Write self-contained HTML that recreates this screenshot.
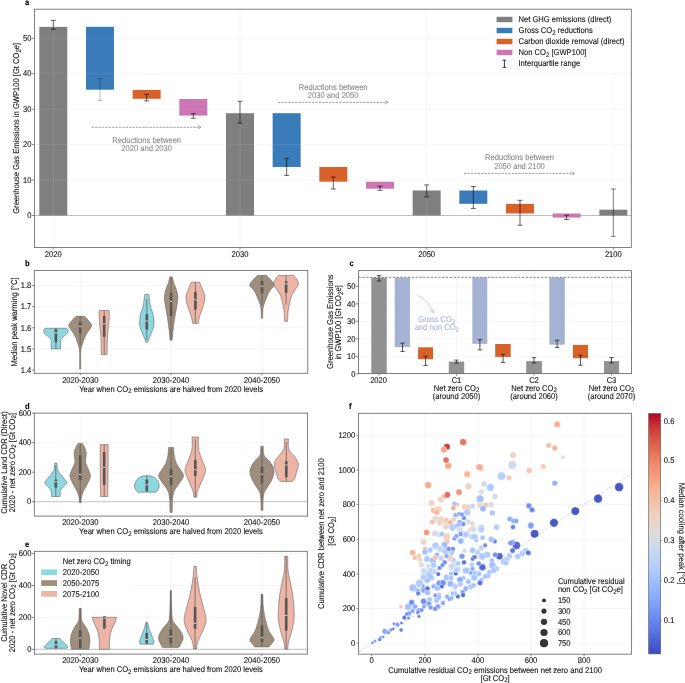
<!DOCTYPE html>
<html><head><meta charset="utf-8"><title>Figure</title>
<style>
html,body{margin:0;padding:0;background:#fff;}
svg{display:block;text-rendering:geometricPrecision;}
</style></head><body>
<svg width="685" height="683" viewBox="0 0 685 683" font-family='"Liberation Sans", Arial, Helvetica, sans-serif' font-size="7.6" fill="#111">
<rect width="685" height="683" fill="#fff"/>
<text x="24.9" y="5.1" font-weight="bold" transform="matrix(1 0 0 1.1 0 -0.51)" stroke="#000" stroke-width="0.12" fill="#000">a</text>
<line x1="34.5" y1="215.5" x2="631.3" y2="215.5" stroke="#f2f2f2" stroke-width="0.8"/>
<line x1="34.5" y1="180.06" x2="631.3" y2="180.06" stroke="#f2f2f2" stroke-width="0.8"/>
<line x1="34.5" y1="144.62" x2="631.3" y2="144.62" stroke="#f2f2f2" stroke-width="0.8"/>
<line x1="34.5" y1="109.18" x2="631.3" y2="109.18" stroke="#f2f2f2" stroke-width="0.8"/>
<line x1="34.5" y1="73.74" x2="631.3" y2="73.74" stroke="#f2f2f2" stroke-width="0.8"/>
<line x1="34.5" y1="38.3" x2="631.3" y2="38.3" stroke="#f2f2f2" stroke-width="0.8"/>
<line x1="53.3" y1="9.2" x2="53.3" y2="247.5" stroke="#f2f2f2" stroke-width="0.8"/>
<line x1="239.98" y1="9.2" x2="239.98" y2="247.5" stroke="#f2f2f2" stroke-width="0.8"/>
<line x1="426.66" y1="9.2" x2="426.66" y2="247.5" stroke="#f2f2f2" stroke-width="0.8"/>
<line x1="613.34" y1="9.2" x2="613.34" y2="247.5" stroke="#f2f2f2" stroke-width="0.8"/>
<line x1="34.5" y1="215.5" x2="631.3" y2="215.5" stroke="#b8b8b8" stroke-width="0.9"/>
<rect x="39.3" y="26.9" width="28" height="188.6" fill="#7f7f7f"/>
<rect x="85.97" y="26.8" width="28" height="62.9" fill="#3a7cb9"/>
<rect x="132.64" y="89.9" width="28" height="8.9" fill="#d8612a"/>
<rect x="179.31" y="99" width="28" height="16.6" fill="#cc76b4"/>
<rect x="225.98" y="113.2" width="28" height="102.3" fill="#7f7f7f"/>
<rect x="272.65" y="113.2" width="28" height="53.8" fill="#3a7cb9"/>
<rect x="319.32" y="167" width="28" height="14.7" fill="#d8612a"/>
<rect x="365.99" y="181.7" width="28" height="7" fill="#cc76b4"/>
<rect x="412.66" y="190.5" width="28" height="25" fill="#7f7f7f"/>
<rect x="459.33" y="190.5" width="28" height="13.3" fill="#3a7cb9"/>
<rect x="506" y="203.9" width="28" height="9.6" fill="#d8612a"/>
<rect x="552.67" y="213.5" width="28" height="4.1" fill="#cc76b4"/>
<rect x="599.34" y="209.7" width="28" height="5.8" fill="#7f7f7f"/>
<line x1="34.5" y1="180.06" x2="631.3" y2="180.06" stroke="#ffffff" stroke-width="0.7" opacity="0.12"/>
<line x1="34.5" y1="144.62" x2="631.3" y2="144.62" stroke="#ffffff" stroke-width="0.7" opacity="0.12"/>
<line x1="34.5" y1="109.18" x2="631.3" y2="109.18" stroke="#ffffff" stroke-width="0.7" opacity="0.12"/>
<line x1="34.5" y1="73.74" x2="631.3" y2="73.74" stroke="#ffffff" stroke-width="0.7" opacity="0.12"/>
<line x1="34.5" y1="38.3" x2="631.3" y2="38.3" stroke="#ffffff" stroke-width="0.7" opacity="0.12"/>
<line x1="53.3" y1="9.2" x2="53.3" y2="247.5" stroke="#ffffff" stroke-width="0.7" opacity="0.12"/>
<line x1="239.98" y1="9.2" x2="239.98" y2="247.5" stroke="#ffffff" stroke-width="0.7" opacity="0.12"/>
<line x1="426.66" y1="9.2" x2="426.66" y2="247.5" stroke="#ffffff" stroke-width="0.7" opacity="0.12"/>
<line x1="613.34" y1="9.2" x2="613.34" y2="247.5" stroke="#ffffff" stroke-width="0.7" opacity="0.12"/>
<path d="M53.3 20.4 V29.3 M50.8 20.4 H55.8 M50.8 29.3 H55.8" stroke="#000" stroke-width="0.9" fill="none" opacity="0.68"/>
<path d="M99.97 78.7 V100.4 M97.47 78.7 H102.47 M97.47 100.4 H102.47" stroke="#000" stroke-width="0.9" fill="none" opacity="0.3"/>
<path d="M146.64 94.3 V100.9 M144.14 94.3 H149.14 M144.14 100.9 H149.14" stroke="#000" stroke-width="0.9" fill="none" opacity="0.68"/>
<path d="M193.31 113.7 V118.2 M190.81 113.7 H195.81 M190.81 118.2 H195.81" stroke="#000" stroke-width="0.9" fill="none" opacity="0.68"/>
<path d="M239.98 101.3 V123.2 M237.48 101.3 H242.48 M237.48 123.2 H242.48" stroke="#000" stroke-width="0.9" fill="none" opacity="0.68"/>
<path d="M286.65 158.4 V175.4 M284.15 158.4 H289.15 M284.15 175.4 H289.15" stroke="#000" stroke-width="0.9" fill="none" opacity="0.68"/>
<path d="M333.32 177 V189 M330.82 177 H335.82 M330.82 189 H335.82" stroke="#000" stroke-width="0.9" fill="none" opacity="0.68"/>
<path d="M379.99 186.2 V190.3 M377.49 186.2 H382.49 M377.49 190.3 H382.49" stroke="#000" stroke-width="0.9" fill="none" opacity="0.68"/>
<path d="M426.66 184.9 V196.8 M424.16 184.9 H429.16 M424.16 196.8 H429.16" stroke="#000" stroke-width="0.9" fill="none" opacity="0.68"/>
<path d="M473.33 186.5 V208.4 M470.83 186.5 H475.83 M470.83 208.4 H475.83" stroke="#000" stroke-width="0.9" fill="none" opacity="0.68"/>
<path d="M520 200.3 V225.2 M517.5 200.3 H522.5 M517.5 225.2 H522.5" stroke="#000" stroke-width="0.9" fill="none" opacity="0.68"/>
<path d="M566.67 215.2 V219.5 M564.17 215.2 H569.17 M564.17 219.5 H569.17" stroke="#000" stroke-width="0.9" fill="none" opacity="0.68"/>
<path d="M613.34 189 V236.4 M610.84 189 H615.84 M610.84 236.4 H615.84" stroke="#000" stroke-width="0.9" fill="none" opacity="0.55"/>
<rect x="34.5" y="9.2" width="596.8" height="238.3" fill="none" stroke="#6a6a6a" stroke-width="0.85"/>
<line x1="32" y1="215.5" x2="34.5" y2="215.5" stroke="#6a6a6a" stroke-width="0.8"/>
<text x="31.5" y="218.25" text-anchor="end" transform="matrix(1 0 0 1.1 0 -21.83)" stroke="#111" stroke-width="0.1">0</text>
<line x1="32" y1="180.06" x2="34.5" y2="180.06" stroke="#6a6a6a" stroke-width="0.8"/>
<text x="31.5" y="182.81" text-anchor="end" transform="matrix(1 0 0 1.1 0 -18.28)" stroke="#111" stroke-width="0.1">10</text>
<line x1="32" y1="144.62" x2="34.5" y2="144.62" stroke="#6a6a6a" stroke-width="0.8"/>
<text x="31.5" y="147.37" text-anchor="end" transform="matrix(1 0 0 1.1 0 -14.74)" stroke="#111" stroke-width="0.1">20</text>
<line x1="32" y1="109.18" x2="34.5" y2="109.18" stroke="#6a6a6a" stroke-width="0.8"/>
<text x="31.5" y="111.93" text-anchor="end" transform="matrix(1 0 0 1.1 0 -11.19)" stroke="#111" stroke-width="0.1">30</text>
<line x1="32" y1="73.74" x2="34.5" y2="73.74" stroke="#6a6a6a" stroke-width="0.8"/>
<text x="31.5" y="76.49" text-anchor="end" transform="matrix(1 0 0 1.1 0 -7.65)" stroke="#111" stroke-width="0.1">40</text>
<line x1="32" y1="38.3" x2="34.5" y2="38.3" stroke="#6a6a6a" stroke-width="0.8"/>
<text x="31.5" y="41.05" text-anchor="end" transform="matrix(1 0 0 1.1 0 -4.11)" stroke="#111" stroke-width="0.1">50</text>
<line x1="53.3" y1="247.5" x2="53.3" y2="249.5" stroke="#6a6a6a" stroke-width="0.8"/>
<text x="53.3" y="256.6" text-anchor="middle" transform="matrix(1 0 0 1.1 0 -25.66)" stroke="#111" stroke-width="0.1">2020</text>
<line x1="239.98" y1="247.5" x2="239.98" y2="249.5" stroke="#6a6a6a" stroke-width="0.8"/>
<text x="239.98" y="256.6" text-anchor="middle" transform="matrix(1 0 0 1.1 0 -25.66)" stroke="#111" stroke-width="0.1">2030</text>
<line x1="426.66" y1="247.5" x2="426.66" y2="249.5" stroke="#6a6a6a" stroke-width="0.8"/>
<text x="426.66" y="256.6" text-anchor="middle" transform="matrix(1 0 0 1.1 0 -25.66)" stroke="#111" stroke-width="0.1">2050</text>
<line x1="613.34" y1="247.5" x2="613.34" y2="249.5" stroke="#6a6a6a" stroke-width="0.8"/>
<text x="613.34" y="256.6" text-anchor="middle" transform="matrix(1 0 0 1.1 0 -25.66)" stroke="#111" stroke-width="0.1">2100</text>
<text x="19.3" y="128.3" text-anchor="middle" transform="rotate(-90 19.3 128.3) matrix(1 0 0 1.1 0 -12.83)" stroke="#111" stroke-width="0.1">Greenhouse Gas Emissions in GWP100 [Gt CO<tspan font-size="80%" dy="1.4">2</tspan><tspan dy="-1.4" font-style="italic">e</tspan>]</text>
<line x1="91.6" y1="127.3" x2="200.2" y2="127.3" stroke="#6f6f6f" stroke-width="0.65" stroke-dasharray="2.4 1.0"/>
<path d="M198.4 125.7 L201 127.3 L198.4 128.9" fill="none" stroke="#6f6f6f" stroke-width="0.65"/>
<text x="146.7" y="142.9" text-anchor="middle" fill="#8a8a8a" transform="matrix(1 0 0 1.1 0 -14.29)" stroke="#8a8a8a" stroke-width="0.1">Reductions between</text>
<text x="146.7" y="150.9" text-anchor="middle" fill="#8a8a8a" transform="matrix(1 0 0 1.1 0 -15.09)" stroke="#8a8a8a" stroke-width="0.1">2020 and 2030</text>
<line x1="278" y1="102.4" x2="387.2" y2="102.4" stroke="#6f6f6f" stroke-width="0.65" stroke-dasharray="2.4 1.0"/>
<path d="M385.4 100.8 L388 102.4 L385.4 104" fill="none" stroke="#6f6f6f" stroke-width="0.65"/>
<text x="333.2" y="89.6" text-anchor="middle" fill="#8a8a8a" transform="matrix(1 0 0 1.1 0 -8.96)" stroke="#8a8a8a" stroke-width="0.1">Reductions between</text>
<text x="333.2" y="97.7" text-anchor="middle" fill="#8a8a8a" transform="matrix(1 0 0 1.1 0 -9.77)" stroke="#8a8a8a" stroke-width="0.1">2030 and 2050</text>
<line x1="464" y1="173.4" x2="573.7" y2="173.4" stroke="#6f6f6f" stroke-width="0.65" stroke-dasharray="2.4 1.0"/>
<path d="M571.9 171.8 L574.5 173.4 L571.9 175" fill="none" stroke="#6f6f6f" stroke-width="0.65"/>
<text x="519.5" y="160.2" text-anchor="middle" fill="#8a8a8a" transform="matrix(1 0 0 1.1 0 -16.02)" stroke="#8a8a8a" stroke-width="0.1">Reductions between</text>
<text x="519.5" y="168.7" text-anchor="middle" fill="#8a8a8a" transform="matrix(1 0 0 1.1 0 -16.87)" stroke="#8a8a8a" stroke-width="0.1">2050 and 2100</text>
<rect x="494.2" y="12" width="135.5" height="59" fill="#fff" opacity="0.85"/>
<rect x="496.6" y="16.8" width="15.8" height="5.4" fill="#7f7f7f"/>
<text x="518.5" y="22.1" transform="matrix(1 0 0 1.1 0 -2.21)" stroke="#111" stroke-width="0.1">Net GHG emissions (direct)</text>
<rect x="496.6" y="27.8" width="15.8" height="5.4" fill="#3a7cb9"/>
<text x="518.5" y="33.1" transform="matrix(1 0 0 1.1 0 -3.31)" stroke="#111" stroke-width="0.1">Gross CO<tspan font-size="80%" dy="1.4">2</tspan><tspan dy="-1.4"> reductions</tspan></text>
<rect x="496.6" y="38.8" width="15.8" height="5.4" fill="#d8612a"/>
<text x="518.5" y="44.1" transform="matrix(1 0 0 1.1 0 -4.41)" stroke="#111" stroke-width="0.1">Carbon dioxide removal (direct)</text>
<rect x="496.6" y="49.8" width="15.8" height="5.4" fill="#cc76b4"/>
<text x="518.5" y="55.1" transform="matrix(1 0 0 1.1 0 -5.51)" stroke="#111" stroke-width="0.1">Non CO<tspan font-size="80%" dy="1.4">2</tspan><tspan dy="-1.4"> [GWP100]</tspan></text>
<g stroke="#222" stroke-width="0.9">
<line x1="504.4" y1="60.2" x2="504.4" y2="67.4" stroke="#222" stroke-width="0.9"/>
<line x1="502.6" y1="60.2" x2="506.2" y2="60.2" stroke="#222" stroke-width="0.9"/>
<line x1="502.6" y1="67.4" x2="506.2" y2="67.4" stroke="#222" stroke-width="0.9"/>
</g>
<text x="518.5" y="66.3" transform="matrix(1 0 0 1.1 0 -6.63)" stroke="#111" stroke-width="0.1">Interquartile range</text>
<line x1="34.3" y1="370" x2="307.8" y2="370" stroke="#f2f2f2" stroke-width="0.8"/>
<line x1="34.3" y1="348.9" x2="307.8" y2="348.9" stroke="#f2f2f2" stroke-width="0.8"/>
<line x1="34.3" y1="327.8" x2="307.8" y2="327.8" stroke="#f2f2f2" stroke-width="0.8"/>
<line x1="34.3" y1="306.7" x2="307.8" y2="306.7" stroke="#f2f2f2" stroke-width="0.8"/>
<line x1="34.3" y1="285.6" x2="307.8" y2="285.6" stroke="#f2f2f2" stroke-width="0.8"/>
<line x1="80.3" y1="270.5" x2="80.3" y2="373.3" stroke="#f2f2f2" stroke-width="0.8"/>
<line x1="171" y1="270.5" x2="171" y2="373.3" stroke="#f2f2f2" stroke-width="0.8"/>
<line x1="261.9" y1="270.5" x2="261.9" y2="373.3" stroke="#f2f2f2" stroke-width="0.8"/>
<path d="M45.5 328.3 L66.3 328.3 C66.55 328.48 67.5 328.82 67.8 329.4 C68.1 329.98 68.33 331.03 68.1 331.8 C67.87 332.57 67.07 333.27 66.4 334 C65.73 334.73 65.03 335.28 64.1 336.2 C63.17 337.12 61.38 338.22 60.8 339.5 C60.22 340.78 60.63 342.33 60.6 343.9 C60.57 345.47 60.6 348.07 60.6 348.9 L51.2 348.9 C51.2 348.07 51.23 345.47 51.2 343.9 C51.17 342.33 51.58 340.78 51 339.5 C50.42 338.22 48.63 337.12 47.7 336.2 C46.77 335.28 46.07 334.73 45.4 334 C44.73 333.27 43.93 332.57 43.7 331.8 C43.47 331.03 43.7 329.98 44 329.4 C44.3 328.82 45.25 328.48 45.5 328.3 Z" fill="#8dd8e0" stroke="#5c5c5c" stroke-width="0.55"/>
<line x1="55.9" y1="328.3" x2="55.9" y2="348.9" stroke="#555" stroke-width="0.7"/>
<rect x="54.6" y="329.1" width="2.6" height="13.2" fill="#555"/>
<rect x="54.8" y="332.45" width="2.2" height="0.9" fill="#f4f4f4"/>
<path d="M76.1 316.3 L84.3 316.3 C84.95 316.97 86.97 318.8 88.2 320.3 C89.43 321.8 91.48 323.75 91.7 325.3 C91.92 326.85 90.48 327.97 89.5 329.6 C88.52 331.23 86.85 333.08 85.8 335.1 C84.75 337.12 83.97 339.5 83.2 341.7 C82.43 343.9 81.62 346.1 81.2 348.3 C80.78 350.5 80.77 351.45 80.7 354.9 C80.63 358.35 80.78 366.65 80.8 369 L79.6 369 C79.62 366.65 79.77 358.35 79.7 354.9 C79.63 351.45 79.62 350.5 79.2 348.3 C78.78 346.1 77.97 343.9 77.2 341.7 C76.43 339.5 75.65 337.12 74.6 335.1 C73.55 333.08 71.88 331.23 70.9 329.6 C69.92 327.97 68.48 326.85 68.7 325.3 C68.92 323.75 70.97 321.8 72.2 320.3 C73.43 318.8 75.45 316.97 76.1 316.3 Z" fill="#9f8e7c" stroke="#5c5c5c" stroke-width="0.55"/>
<line x1="80.2" y1="316.3" x2="80.2" y2="345" stroke="#555" stroke-width="0.7"/>
<rect x="78.9" y="322" width="2.6" height="11.5" fill="#555"/>
<rect x="79.1" y="325.95" width="2.2" height="0.9" fill="#f4f4f4"/>
<path d="M99.15 310.4 L109.25 310.4 C109.26 311.42 109.44 313.65 109.3 316.5 C109.16 319.35 108.72 323.85 108.4 327.5 C108.08 331.15 107.62 333.88 107.4 338.4 C107.18 342.92 107.15 351.9 107.1 354.6 L101.3 354.6 C101.25 351.9 101.22 342.92 101 338.4 C100.78 333.88 100.32 331.15 100 327.5 C99.68 323.85 99.24 319.35 99.1 316.5 C98.96 313.65 99.14 311.42 99.15 310.4 Z" fill="#ecb5a6" stroke="#5c5c5c" stroke-width="0.55"/>
<line x1="104.2" y1="310.4" x2="104.2" y2="354.6" stroke="#555" stroke-width="0.7"/>
<rect x="102.9" y="315.9" width="2.6" height="20.9" fill="#555"/>
<rect x="103.1" y="323.45" width="2.2" height="0.9" fill="#f4f4f4"/>
<path d="M144.8 294.5 L148.8 294.5 C148.9 295.23 149.1 296.8 149.4 298.9 C149.7 301 149.98 304.55 150.6 307.1 C151.22 309.65 152.52 311.47 153.1 314.2 C153.68 316.93 154.22 320.77 154.1 323.5 C153.98 326.23 153.18 328.25 152.4 330.6 C151.62 332.95 150.17 335.65 149.4 337.6 C148.63 339.55 148.07 341.52 147.8 342.3 L145.8 342.3 C145.53 341.52 144.97 339.55 144.2 337.6 C143.43 335.65 141.98 332.95 141.2 330.6 C140.42 328.25 139.62 326.23 139.5 323.5 C139.38 320.77 139.92 316.93 140.5 314.2 C141.08 311.47 142.38 309.65 143 307.1 C143.62 304.55 143.9 301 144.2 298.9 C144.5 296.8 144.7 295.23 144.8 294.5 Z" fill="#8dd8e0" stroke="#5c5c5c" stroke-width="0.55"/>
<line x1="146.8" y1="298.9" x2="146.8" y2="340" stroke="#555" stroke-width="0.7"/>
<rect x="145.5" y="314.2" width="2.6" height="15.4" fill="#555"/>
<rect x="145.7" y="320.55" width="2.2" height="0.9" fill="#f4f4f4"/>
<path d="M169.9 276.9 L172.3 276.9 C172.6 278.03 173.42 281.58 174.1 283.7 C174.78 285.82 175.78 287.35 176.4 289.6 C177.02 291.85 177.7 294.67 177.8 297.2 C177.9 299.73 177.53 301.2 177 304.8 C176.47 308.4 175.27 314.52 174.6 318.8 C173.93 323.08 173.42 326.93 173 330.5 C172.58 334.07 172.25 338.58 172.1 340.2 L170.1 340.2 C169.95 338.58 169.62 334.07 169.2 330.5 C168.78 326.93 168.27 323.08 167.6 318.8 C166.93 314.52 165.73 308.4 165.2 304.8 C164.67 301.2 164.3 299.73 164.4 297.2 C164.5 294.67 165.18 291.85 165.8 289.6 C166.42 287.35 167.42 285.82 168.1 283.7 C168.78 281.58 169.6 278.03 169.9 276.9 Z" fill="#9f8e7c" stroke="#5c5c5c" stroke-width="0.55"/>
<line x1="171.1" y1="277.5" x2="171.1" y2="339.5" stroke="#555" stroke-width="0.7"/>
<rect x="169.8" y="292.8" width="2.6" height="23.1" fill="#555"/>
<rect x="170" y="300.85" width="2.2" height="0.9" fill="#f4f4f4"/>
<path d="M191.3 282.2 L199.5 282.2 C199.93 283.23 201.2 285.9 202.1 288.4 C203 290.9 204.78 294.08 204.9 297.2 C205.02 300.32 203.7 303.88 202.8 307.1 C201.9 310.32 200.27 313.8 199.5 316.5 C198.73 319.2 198.42 322.17 198.2 323.3 L192.6 323.3 C192.38 322.17 192.07 319.2 191.3 316.5 C190.53 313.8 188.9 310.32 188 307.1 C187.1 303.88 185.78 300.32 185.9 297.2 C186.02 294.08 187.8 290.9 188.7 288.4 C189.6 285.9 190.87 283.23 191.3 282.2 Z" fill="#ecb5a6" stroke="#5c5c5c" stroke-width="0.55"/>
<line x1="195.4" y1="282.2" x2="195.4" y2="323.3" stroke="#555" stroke-width="0.7"/>
<rect x="194.1" y="291.9" width="2.6" height="17.8" fill="#555"/>
<rect x="194.3" y="299.35" width="2.2" height="0.9" fill="#f4f4f4"/>
<path d="M257.3 275.4 L266.7 275.4 C267.45 276.22 269.93 278.67 271.2 280.3 C272.47 281.93 274.52 283.5 274.3 285.2 C274.08 286.9 271.27 288.25 269.9 290.5 C268.53 292.75 267.17 296.13 266.1 298.7 C265.03 301.27 264.05 303.85 263.5 305.9 C262.95 307.95 262.93 308.95 262.8 311 C262.67 313.05 262.72 317 262.7 318.2 L261.3 318.2 C261.28 317 261.33 313.05 261.2 311 C261.07 308.95 261.05 307.95 260.5 305.9 C259.95 303.85 258.97 301.27 257.9 298.7 C256.83 296.13 255.47 292.75 254.1 290.5 C252.73 288.25 249.92 286.9 249.7 285.2 C249.48 283.5 251.53 281.93 252.8 280.3 C254.07 278.67 256.55 276.22 257.3 275.4 Z" fill="#9f8e7c" stroke="#5c5c5c" stroke-width="0.55"/>
<line x1="262" y1="275.4" x2="262" y2="305" stroke="#555" stroke-width="0.7"/>
<rect x="260.7" y="281.1" width="2.6" height="12" fill="#555"/>
<rect x="260.9" y="285.75" width="2.2" height="0.9" fill="#f4f4f4"/>
<path d="M278.4 275.4 L293.8 275.4 C294.32 276.05 296.13 277.88 296.9 279.3 C297.67 280.72 298.53 282.37 298.4 283.9 C298.27 285.43 297.17 286.72 296.1 288.5 C295.03 290.28 293.03 292.38 292 294.6 C290.97 296.82 290.55 299.07 289.9 301.8 C289.25 304.53 288.48 307.75 288.1 311 C287.72 314.25 287.68 319.58 287.6 321.3 L284.6 321.3 C284.52 319.58 284.48 314.25 284.1 311 C283.72 307.75 282.95 304.53 282.3 301.8 C281.65 299.07 281.23 296.82 280.2 294.6 C279.17 292.38 277.17 290.28 276.1 288.5 C275.03 286.72 273.93 285.43 273.8 283.9 C273.67 282.37 274.53 280.72 275.3 279.3 C276.07 277.88 277.88 276.05 278.4 275.4 Z" fill="#ecb5a6" stroke="#5c5c5c" stroke-width="0.55"/>
<line x1="286.1" y1="275.4" x2="286.1" y2="304.4" stroke="#555" stroke-width="0.7"/>
<rect x="284.8" y="281.1" width="2.6" height="11.8" fill="#555"/>
<rect x="285" y="283.45" width="2.2" height="0.9" fill="#f4f4f4"/>
<rect x="34.3" y="270.5" width="273.5" height="102.8" fill="none" stroke="#6a6a6a" stroke-width="0.85"/>
<line x1="31.8" y1="370" x2="34.3" y2="370" stroke="#6a6a6a" stroke-width="0.8"/>
<text x="31.3" y="372.75" text-anchor="end" transform="matrix(1 0 0 1.1 0 -37.28)" stroke="#111" stroke-width="0.1">1.4</text>
<line x1="31.8" y1="348.9" x2="34.3" y2="348.9" stroke="#6a6a6a" stroke-width="0.8"/>
<text x="31.3" y="351.65" text-anchor="end" transform="matrix(1 0 0 1.1 0 -35.17)" stroke="#111" stroke-width="0.1">1.5</text>
<line x1="31.8" y1="327.8" x2="34.3" y2="327.8" stroke="#6a6a6a" stroke-width="0.8"/>
<text x="31.3" y="330.55" text-anchor="end" transform="matrix(1 0 0 1.1 0 -33.06)" stroke="#111" stroke-width="0.1">1.6</text>
<line x1="31.8" y1="306.7" x2="34.3" y2="306.7" stroke="#6a6a6a" stroke-width="0.8"/>
<text x="31.3" y="309.45" text-anchor="end" transform="matrix(1 0 0 1.1 0 -30.95)" stroke="#111" stroke-width="0.1">1.7</text>
<line x1="31.8" y1="285.6" x2="34.3" y2="285.6" stroke="#6a6a6a" stroke-width="0.8"/>
<text x="31.3" y="288.35" text-anchor="end" transform="matrix(1 0 0 1.1 0 -28.84)" stroke="#111" stroke-width="0.1">1.8</text>
<line x1="80.3" y1="373.3" x2="80.3" y2="375.3" stroke="#6a6a6a" stroke-width="0.8"/>
<text x="80.3" y="383" text-anchor="middle" transform="matrix(1 0 0 1.1 0 -38.3)" stroke="#111" stroke-width="0.1">2020-2030</text>
<line x1="171" y1="373.3" x2="171" y2="375.3" stroke="#6a6a6a" stroke-width="0.8"/>
<text x="171" y="383" text-anchor="middle" transform="matrix(1 0 0 1.1 0 -38.3)" stroke="#111" stroke-width="0.1">2030-2040</text>
<line x1="261.9" y1="373.3" x2="261.9" y2="375.3" stroke="#6a6a6a" stroke-width="0.8"/>
<text x="261.9" y="383" text-anchor="middle" transform="matrix(1 0 0 1.1 0 -38.3)" stroke="#111" stroke-width="0.1">2040-2050</text>
<text x="171.05" y="391.8" text-anchor="middle" transform="matrix(1 0 0 1.1 0 -39.18)" stroke="#111" stroke-width="0.1">Year when CO<tspan font-size="80%" dy="1.4">2</tspan><tspan dy="-1.4"> emissions are halved from 2020 levels</tspan></text>
<text x="17" y="321.9" text-anchor="middle" transform="rotate(-90 17 321.9) matrix(1 0 0 1.1 0 -32.19)" stroke="#111" stroke-width="0.1">Median peak warming [°C]</text>
<text x="25.1" y="266" font-weight="bold" transform="matrix(1 0 0 1.1 0 -26.6)" stroke="#000" stroke-width="0.12" fill="#000">b</text>
<line x1="34.3" y1="501.7" x2="307.6" y2="501.7" stroke="#f2f2f2" stroke-width="0.8"/>
<line x1="34.3" y1="472.2" x2="307.6" y2="472.2" stroke="#f2f2f2" stroke-width="0.8"/>
<line x1="34.3" y1="442.7" x2="307.6" y2="442.7" stroke="#f2f2f2" stroke-width="0.8"/>
<line x1="34.3" y1="413.2" x2="307.6" y2="413.2" stroke="#f2f2f2" stroke-width="0.8"/>
<line x1="80.3" y1="413.1" x2="80.3" y2="516.1" stroke="#f2f2f2" stroke-width="0.8"/>
<line x1="171" y1="413.1" x2="171" y2="516.1" stroke="#f2f2f2" stroke-width="0.8"/>
<line x1="261.9" y1="413.1" x2="261.9" y2="516.1" stroke="#f2f2f2" stroke-width="0.8"/>
<line x1="34.3" y1="501.7" x2="307.6" y2="501.7" stroke="#b8b8b8" stroke-width="0.8"/>
<path d="M54.6 463.1 L57 463.1 C57.1 464.27 56.97 468.15 57.6 470.1 C58.23 472.05 59.67 473.33 60.8 474.8 C61.93 476.27 63.4 477.57 64.4 478.9 C65.4 480.23 66.92 481.53 66.8 482.8 C66.68 484.07 64.75 485.2 63.7 486.5 C62.65 487.8 61.1 488.93 60.5 490.6 C59.9 492.27 60.17 495.52 60.1 496.5 L51.5 496.5 C51.43 495.52 51.7 492.27 51.1 490.6 C50.5 488.93 48.95 487.8 47.9 486.5 C46.85 485.2 44.92 484.07 44.8 482.8 C44.68 481.53 46.2 480.23 47.2 478.9 C48.2 477.57 49.67 476.27 50.8 474.8 C51.93 473.33 53.37 472.05 54 470.1 C54.63 468.15 54.5 464.27 54.6 463.1 Z" fill="#8dd8e0" stroke="#5c5c5c" stroke-width="0.55"/>
<line x1="55.8" y1="465" x2="55.8" y2="496.5" stroke="#555" stroke-width="0.7"/>
<rect x="54.5" y="479.5" width="2.6" height="8.2" fill="#555"/>
<rect x="54.7" y="481.35" width="2.2" height="0.9" fill="#f4f4f4"/>
<path d="M78 443.4 L82.4 443.4 C82.82 444.15 84.25 446.18 84.9 447.9 C85.55 449.62 86.2 451.37 86.3 453.7 C86.4 456.03 85.1 459.17 85.5 461.9 C85.9 464.63 87.88 467.65 88.7 470.1 C89.52 472.55 90.65 474.25 90.4 476.6 C90.15 478.95 88.37 481.77 87.2 484.2 C86.03 486.63 84.37 489.05 83.4 491.2 C82.43 493.35 81.8 495.18 81.4 497.1 C81 499.02 81.07 501.77 81 502.7 L79.4 502.7 C79.33 501.77 79.4 499.02 79 497.1 C78.6 495.18 77.97 493.35 77 491.2 C76.03 489.05 74.37 486.63 73.2 484.2 C72.03 481.77 70.25 478.95 70 476.6 C69.75 474.25 70.88 472.55 71.7 470.1 C72.52 467.65 74.5 464.63 74.9 461.9 C75.3 459.17 74 456.03 74.1 453.7 C74.2 451.37 74.85 449.62 75.5 447.9 C76.15 446.18 77.58 444.15 78 443.4 Z" fill="#9f8e7c" stroke="#5c5c5c" stroke-width="0.55"/>
<line x1="80.2" y1="444" x2="80.2" y2="502" stroke="#555" stroke-width="0.7"/>
<rect x="78.9" y="455.1" width="2.6" height="25" fill="#555"/>
<rect x="79.1" y="474.05" width="2.2" height="0.9" fill="#f4f4f4"/>
<path d="M100.2 444.6 L108.2 444.6 C108.18 448.83 108.17 461.35 108.1 470 C108.03 478.65 107.85 492.08 107.8 496.5 L100.6 496.5 C100.55 492.08 100.37 478.65 100.3 470 C100.23 461.35 100.22 448.83 100.2 444.6 Z" fill="#ecb5a6" stroke="#5c5c5c" stroke-width="0.55"/>
<line x1="104.2" y1="444.6" x2="104.2" y2="496.5" stroke="#555" stroke-width="0.7"/>
<rect x="102.9" y="452" width="2.6" height="32.8" fill="#555"/>
<rect x="103.1" y="466.75" width="2.2" height="0.9" fill="#f4f4f4"/>
<path d="M143.1 475.8 L150.5 475.8 C151.23 476.15 153.72 477.03 154.9 477.9 C156.08 478.77 156.9 479.85 157.6 481 C158.3 482.15 158.92 483.55 159.1 484.8 C159.28 486.05 159.08 487.47 158.7 488.5 C158.32 489.53 157.28 490.38 156.8 491 C156.32 491.62 155.97 492 155.8 492.2 L137.8 492.2 C137.63 492 137.28 491.62 136.8 491 C136.32 490.38 135.28 489.53 134.9 488.5 C134.52 487.47 134.32 486.05 134.5 484.8 C134.68 483.55 135.3 482.15 136 481 C136.7 479.85 137.52 478.77 138.7 477.9 C139.88 477.03 142.37 476.15 143.1 475.8 Z" fill="#8dd8e0" stroke="#5c5c5c" stroke-width="0.55"/>
<line x1="146.8" y1="475.8" x2="146.8" y2="492.2" stroke="#555" stroke-width="0.7"/>
<rect x="145.5" y="479.5" width="2.6" height="11.5" fill="#555"/>
<rect x="145.7" y="484.35" width="2.2" height="0.9" fill="#f4f4f4"/>
<path d="M168.6 447.4 L173.6 447.4 C173.7 448.65 173.73 452.2 174.2 454.9 C174.67 457.6 175.37 461.12 176.4 463.6 C177.43 466.08 179.22 467.73 180.4 469.8 C181.58 471.87 183.7 473.72 183.5 476 C183.3 478.28 180.75 481 179.2 483.5 C177.65 486 175.32 488.3 174.2 491 C173.08 493.7 172.82 497 172.5 499.7 C172.18 502.4 172.37 505.08 172.3 507.2 C172.23 509.32 172.13 511.53 172.1 512.4 L170.1 512.4 C170.07 511.53 169.97 509.32 169.9 507.2 C169.83 505.08 170.02 502.4 169.7 499.7 C169.38 497 169.12 493.7 168 491 C166.88 488.3 164.55 486 163 483.5 C161.45 481 158.9 478.28 158.7 476 C158.5 473.72 160.62 471.87 161.8 469.8 C162.98 467.73 164.77 466.08 165.8 463.6 C166.83 461.12 167.53 457.6 168 454.9 C168.47 452.2 168.5 448.65 168.6 447.4 Z" fill="#9f8e7c" stroke="#5c5c5c" stroke-width="0.55"/>
<line x1="171.1" y1="449" x2="171.1" y2="500" stroke="#555" stroke-width="0.7"/>
<rect x="169.8" y="469" width="2.6" height="15.8" fill="#555"/>
<rect x="170" y="475.85" width="2.2" height="0.9" fill="#f4f4f4"/>
<path d="M191.9 437.1 L198.7 437.1 C198.63 437.98 198.25 440.05 198.3 442.4 C198.35 444.75 198.37 448.28 199 451.2 C199.63 454.12 201 456.8 202.1 459.9 C203.2 463 205.38 466.9 205.6 469.8 C205.82 472.7 204.38 474.6 203.4 477.3 C202.42 480 200.72 483.52 199.7 486 C198.68 488.48 197.78 490.33 197.3 492.2 C196.82 494.07 196.88 496.37 196.8 497.2 L193.8 497.2 C193.72 496.37 193.78 494.07 193.3 492.2 C192.82 490.33 191.92 488.48 190.9 486 C189.88 483.52 188.18 480 187.2 477.3 C186.22 474.6 184.78 472.7 185 469.8 C185.22 466.9 187.4 463 188.5 459.9 C189.6 456.8 190.97 454.12 191.6 451.2 C192.23 448.28 192.25 444.75 192.3 442.4 C192.35 440.05 191.97 437.98 191.9 437.1 Z" fill="#ecb5a6" stroke="#5c5c5c" stroke-width="0.55"/>
<line x1="195.3" y1="439" x2="195.3" y2="497" stroke="#555" stroke-width="0.7"/>
<rect x="194" y="459.9" width="2.6" height="16.1" fill="#555"/>
<rect x="194.2" y="469.35" width="2.2" height="0.9" fill="#f4f4f4"/>
<path d="M260.8 446.2 L263.2 446.2 C263.32 447.65 263.07 452.62 263.9 454.9 C264.73 457.18 266.75 458.03 268.2 459.9 C269.65 461.77 271.63 464.03 272.6 466.1 C273.57 468.17 274.13 470.02 274 472.3 C273.87 474.58 272.92 477.3 271.8 479.8 C270.68 482.3 268.67 484.8 267.3 487.3 C265.93 489.8 264.33 490.97 263.6 494.8 C262.87 498.63 263.02 507.72 262.9 510.3 L261.1 510.3 C260.98 507.72 261.13 498.63 260.4 494.8 C259.67 490.97 258.07 489.8 256.7 487.3 C255.33 484.8 253.32 482.3 252.2 479.8 C251.08 477.3 250.13 474.58 250 472.3 C249.87 470.02 250.43 468.17 251.4 466.1 C252.37 464.03 254.35 461.77 255.8 459.9 C257.25 458.03 259.27 457.18 260.1 454.9 C260.93 452.62 260.68 447.65 260.8 446.2 Z" fill="#9f8e7c" stroke="#5c5c5c" stroke-width="0.55"/>
<line x1="262" y1="448" x2="262" y2="500" stroke="#555" stroke-width="0.7"/>
<rect x="260.7" y="466.7" width="2.6" height="16.6" fill="#555"/>
<rect x="260.9" y="473.75" width="2.2" height="0.9" fill="#f4f4f4"/>
<path d="M284.2 439 L288.4 439 C288.45 440.62 287.93 446.05 288.7 448.7 C289.47 451.35 291.63 453.03 293 454.9 C294.37 456.77 296 458.13 296.9 459.9 C297.8 461.67 298.47 463.43 298.4 465.5 C298.33 467.57 297.12 470.12 296.5 472.3 C295.88 474.48 295.38 477.08 294.7 478.6 C294.02 480.12 292.78 480.93 292.4 481.4 L280.2 481.4 C279.82 480.93 278.58 480.12 277.9 478.6 C277.22 477.08 276.72 474.48 276.1 472.3 C275.48 470.12 274.27 467.57 274.2 465.5 C274.13 463.43 274.8 461.67 275.7 459.9 C276.6 458.13 278.23 456.77 279.6 454.9 C280.97 453.03 283.13 451.35 283.9 448.7 C284.67 446.05 284.15 440.62 284.2 439 Z" fill="#ecb5a6" stroke="#5c5c5c" stroke-width="0.55"/>
<line x1="286.3" y1="442" x2="286.3" y2="481.4" stroke="#555" stroke-width="0.7"/>
<rect x="285" y="461.1" width="2.6" height="16" fill="#555"/>
<rect x="285.2" y="464.45" width="2.2" height="0.9" fill="#f4f4f4"/>
<rect x="34.3" y="413.1" width="273.3" height="103" fill="none" stroke="#6a6a6a" stroke-width="0.85"/>
<line x1="31.8" y1="501.7" x2="34.3" y2="501.7" stroke="#6a6a6a" stroke-width="0.8"/>
<text x="31.3" y="504.45" text-anchor="end" transform="matrix(1 0 0 1.1 0 -50.45)" stroke="#111" stroke-width="0.1">0</text>
<line x1="31.8" y1="472.2" x2="34.3" y2="472.2" stroke="#6a6a6a" stroke-width="0.8"/>
<text x="31.3" y="474.95" text-anchor="end" transform="matrix(1 0 0 1.1 0 -47.5)" stroke="#111" stroke-width="0.1">200</text>
<line x1="31.8" y1="442.7" x2="34.3" y2="442.7" stroke="#6a6a6a" stroke-width="0.8"/>
<text x="31.3" y="445.45" text-anchor="end" transform="matrix(1 0 0 1.1 0 -44.55)" stroke="#111" stroke-width="0.1">400</text>
<line x1="31.8" y1="413.2" x2="34.3" y2="413.2" stroke="#6a6a6a" stroke-width="0.8"/>
<text x="31.3" y="415.95" text-anchor="end" transform="matrix(1 0 0 1.1 0 -41.6)" stroke="#111" stroke-width="0.1">600</text>
<line x1="80.3" y1="516.1" x2="80.3" y2="518.1" stroke="#6a6a6a" stroke-width="0.8"/>
<text x="80.3" y="524.6" text-anchor="middle" transform="matrix(1 0 0 1.1 0 -52.46)" stroke="#111" stroke-width="0.1">2020-2030</text>
<line x1="171" y1="516.1" x2="171" y2="518.1" stroke="#6a6a6a" stroke-width="0.8"/>
<text x="171" y="524.6" text-anchor="middle" transform="matrix(1 0 0 1.1 0 -52.46)" stroke="#111" stroke-width="0.1">2030-2040</text>
<line x1="261.9" y1="516.1" x2="261.9" y2="518.1" stroke="#6a6a6a" stroke-width="0.8"/>
<text x="261.9" y="524.6" text-anchor="middle" transform="matrix(1 0 0 1.1 0 -52.46)" stroke="#111" stroke-width="0.1">2040-2050</text>
<text x="170.95" y="534.2" text-anchor="middle" transform="matrix(1 0 0 1.1 0 -53.42)" stroke="#111" stroke-width="0.1">Year when CO<tspan font-size="80%" dy="1.4">2</tspan><tspan dy="-1.4"> emissions are halved from 2020 levels</tspan></text>
<text x="6.6" y="462.6" text-anchor="middle" transform="rotate(-90 6.6 462.6) matrix(1 0 0 1.1 0 -46.26)" stroke="#111" stroke-width="0.1">Cumulative Land CDR (Direct)</text>
<text x="14.9" y="462.6" text-anchor="middle" transform="rotate(-90 14.9 462.6) matrix(1 0 0 1.1 0 -46.26)" stroke="#111" stroke-width="0.1">2020 - net zero CO<tspan font-size="80%" dy="1.4">2</tspan><tspan dy="-1.4"> [Gt CO</tspan><tspan font-size="80%" dy="1.4">2</tspan><tspan dy="-1.4">]</tspan></text>
<text x="25.1" y="408.9" font-weight="bold" transform="matrix(1 0 0 1.1 0 -40.89)" stroke="#000" stroke-width="0.12" fill="#000">d</text>
<line x1="34.5" y1="649.3" x2="307.3" y2="649.3" stroke="#f2f2f2" stroke-width="0.8"/>
<line x1="34.5" y1="617.4" x2="307.3" y2="617.4" stroke="#f2f2f2" stroke-width="0.8"/>
<line x1="34.5" y1="585.5" x2="307.3" y2="585.5" stroke="#f2f2f2" stroke-width="0.8"/>
<line x1="34.5" y1="553.6" x2="307.3" y2="553.6" stroke="#f2f2f2" stroke-width="0.8"/>
<line x1="80.3" y1="551.3" x2="80.3" y2="654.1" stroke="#f2f2f2" stroke-width="0.8"/>
<line x1="171" y1="551.3" x2="171" y2="654.1" stroke="#f2f2f2" stroke-width="0.8"/>
<line x1="261.9" y1="551.3" x2="261.9" y2="654.1" stroke="#f2f2f2" stroke-width="0.8"/>
<line x1="34.5" y1="649.3" x2="307.3" y2="649.3" stroke="#b8b8b8" stroke-width="0.8"/>
<path d="M51.9 638.4 L60.1 638.4 C60.35 638.72 60.83 639.47 61.6 640.3 C62.37 641.13 63.77 642.48 64.7 643.4 C65.63 644.32 66.67 645.18 67.2 645.8 C67.73 646.42 68.1 646.68 67.9 647.1 C67.7 647.52 66.32 648.1 66 648.3 L46 648.3 C45.68 648.1 44.3 647.52 44.1 647.1 C43.9 646.68 44.27 646.42 44.8 645.8 C45.33 645.18 46.37 644.32 47.3 643.4 C48.23 642.48 49.63 641.13 50.4 640.3 C51.17 639.47 51.65 638.72 51.9 638.4 Z" fill="#8dd8e0" stroke="#5c5c5c" stroke-width="0.55"/>
<line x1="56" y1="638.4" x2="56" y2="648.3" stroke="#555" stroke-width="0.7"/>
<rect x="54.7" y="640.9" width="2.6" height="7.4" fill="#555"/>
<rect x="54.9" y="644.15" width="2.2" height="0.9" fill="#f4f4f4"/>
<path d="M79.2 608.6 L81.2 608.6 C81.23 610.25 81.17 616.22 81.4 618.5 C81.63 620.78 81.87 620.85 82.6 622.3 C83.33 623.75 84.77 625.35 85.8 627.2 C86.83 629.05 88.12 631.33 88.8 633.4 C89.48 635.47 89.78 637.53 89.9 639.6 C90.02 641.67 89.7 644.18 89.5 645.8 C89.3 647.42 88.83 648.72 88.7 649.3 L71.7 649.3 C71.57 648.72 71.1 647.42 70.9 645.8 C70.7 644.18 70.38 641.67 70.5 639.6 C70.62 637.53 70.92 635.47 71.6 633.4 C72.28 631.33 73.57 629.05 74.6 627.2 C75.63 625.35 77.07 623.75 77.8 622.3 C78.53 620.85 78.77 620.78 79 618.5 C79.23 616.22 79.17 610.25 79.2 608.6 Z" fill="#9f8e7c" stroke="#5c5c5c" stroke-width="0.55"/>
<line x1="80.2" y1="608.6" x2="80.2" y2="649.3" stroke="#555" stroke-width="0.7"/>
<rect x="78.9" y="630" width="2.6" height="18.1" fill="#555"/>
<rect x="79.1" y="637.65" width="2.2" height="0.9" fill="#f4f4f4"/>
<path d="M92.2 617.3 L116.6 617.3 C116.35 618.13 115.92 620.23 115.1 622.3 C114.28 624.37 112.55 627.43 111.7 629.7 C110.85 631.97 110.37 633.83 110 635.9 C109.63 637.97 109.6 639.87 109.5 642.1 C109.4 644.33 109.42 648.1 109.4 649.3 L99.4 649.3 C99.38 648.1 99.4 644.33 99.3 642.1 C99.2 639.87 99.17 637.97 98.8 635.9 C98.43 633.83 97.95 631.97 97.1 629.7 C96.25 627.43 94.52 624.37 93.7 622.3 C92.88 620.23 92.45 618.13 92.2 617.3 Z" fill="#ecb5a6" stroke="#5c5c5c" stroke-width="0.55"/>
<line x1="104.4" y1="616.1" x2="104.4" y2="628.7" stroke="#555" stroke-width="0.7"/>
<rect x="103.1" y="616.1" width="2.6" height="12.6" fill="#555"/>
<rect x="103.3" y="617.45" width="2.2" height="0.9" fill="#f4f4f4"/>
<path d="M145.9 622.3 L147.5 622.3 C147.83 623.52 148.73 627.23 149.5 629.6 C150.27 631.97 151.37 634.53 152.1 636.5 C152.83 638.47 153.72 640.12 153.9 641.4 C154.08 642.68 153.32 643.73 153.2 644.2 L140.2 644.2 C140.08 643.73 139.32 642.68 139.5 641.4 C139.68 640.12 140.57 638.47 141.3 636.5 C142.03 634.53 143.13 631.97 143.9 629.6 C144.67 627.23 145.57 623.52 145.9 622.3 Z" fill="#8dd8e0" stroke="#5c5c5c" stroke-width="0.55"/>
<line x1="146.7" y1="623" x2="146.7" y2="644" stroke="#555" stroke-width="0.7"/>
<rect x="145.4" y="633" width="2.6" height="10.5" fill="#555"/>
<rect x="145.6" y="639.15" width="2.2" height="0.9" fill="#f4f4f4"/>
<path d="M170.3 590.3 L171.3 590.3 C171.32 592.2 171.28 597.48 171.4 601.7 C171.52 605.92 171.73 612.35 172 615.6 C172.27 618.85 172.1 619.33 173 621.2 C173.9 623.07 176.03 624.95 177.4 626.8 C178.77 628.65 180.25 630.45 181.2 632.3 C182.15 634.15 183.1 636.03 183.1 637.9 C183.1 639.77 181.92 641.88 181.2 643.5 C180.48 645.12 179.2 646.92 178.8 647.6 L162.8 647.6 C162.4 646.92 161.12 645.12 160.4 643.5 C159.68 641.88 158.5 639.77 158.5 637.9 C158.5 636.03 159.45 634.15 160.4 632.3 C161.35 630.45 162.83 628.65 164.2 626.8 C165.57 624.95 167.7 623.07 168.6 621.2 C169.5 619.33 169.33 618.85 169.6 615.6 C169.87 612.35 170.08 605.92 170.2 601.7 C170.32 597.48 170.28 592.2 170.3 590.3 Z" fill="#9f8e7c" stroke="#5c5c5c" stroke-width="0.55"/>
<line x1="170.8" y1="591" x2="170.8" y2="647" stroke="#555" stroke-width="0.7"/>
<rect x="169.5" y="629.6" width="2.6" height="13.6" fill="#555"/>
<rect x="169.7" y="636.05" width="2.2" height="0.9" fill="#f4f4f4"/>
<path d="M194 566.3 L196.2 566.3 C196.37 568.27 196.53 573.35 197.2 578.1 C197.87 582.85 199.1 589.7 200.2 594.8 C201.3 599.9 202.82 604.53 203.8 608.7 C204.78 612.87 206.17 616.32 206.1 619.8 C206.03 623.28 204.72 626.12 203.4 629.6 C202.08 633.08 199.33 637.47 198.2 640.7 C197.07 643.93 196.87 647.62 196.6 649 L193.6 649 C193.33 647.62 193.13 643.93 192 640.7 C190.87 637.47 188.12 633.08 186.8 629.6 C185.48 626.12 184.17 623.28 184.1 619.8 C184.03 616.32 185.42 612.87 186.4 608.7 C187.38 604.53 188.9 599.9 190 594.8 C191.1 589.7 192.33 582.85 193 578.1 C193.67 573.35 193.83 568.27 194 566.3 Z" fill="#ecb5a6" stroke="#5c5c5c" stroke-width="0.55"/>
<line x1="195.1" y1="577.4" x2="195.1" y2="649" stroke="#555" stroke-width="0.7"/>
<rect x="193.8" y="607" width="2.6" height="21.9" fill="#555"/>
<rect x="194" y="622.85" width="2.2" height="0.9" fill="#f4f4f4"/>
<path d="M261.2 594.3 L262.8 594.3 C262.87 596.15 262.88 601.75 263.2 605.4 C263.52 609.05 263.82 612.1 264.7 616.2 C265.58 620.3 267.22 626.67 268.5 630 C269.78 633.33 271.47 634.53 272.4 636.2 C273.33 637.87 274.23 638.73 274.1 640 C273.97 641.27 272.45 642.65 271.6 643.8 C270.75 644.95 269.43 646.38 269 646.9 L255 646.9 C254.57 646.38 253.25 644.95 252.4 643.8 C251.55 642.65 250.03 641.27 249.9 640 C249.77 638.73 250.67 637.87 251.6 636.2 C252.53 634.53 254.22 633.33 255.5 630 C256.78 626.67 258.42 620.3 259.3 616.2 C260.18 612.1 260.48 609.05 260.8 605.4 C261.12 601.75 261.13 596.15 261.2 594.3 Z" fill="#9f8e7c" stroke="#5c5c5c" stroke-width="0.55"/>
<line x1="262" y1="594.3" x2="262" y2="646.9" stroke="#555" stroke-width="0.7"/>
<rect x="260.7" y="625.4" width="2.6" height="16.9" fill="#555"/>
<rect x="260.9" y="637.25" width="2.2" height="0.9" fill="#f4f4f4"/>
<path d="M284.7 556.2 L287.7 556.2 C287.75 558.5 287.62 565.9 288 570 C288.38 574.1 289.18 576.43 290 580.8 C290.82 585.17 292.2 590.3 292.9 596.2 C293.6 602.1 294.35 610.57 294.2 616.2 C294.05 621.83 292.95 625.65 292 630 C291.05 634.35 289.22 639.1 288.5 642.3 C287.78 645.5 287.83 648.05 287.7 649.2 L284.7 649.2 C284.57 648.05 284.62 645.5 283.9 642.3 C283.18 639.1 281.35 634.35 280.4 630 C279.45 625.65 278.35 621.83 278.2 616.2 C278.05 610.57 278.8 602.1 279.5 596.2 C280.2 590.3 281.58 585.17 282.4 580.8 C283.22 576.43 284.02 574.1 284.4 570 C284.78 565.9 284.65 558.5 284.7 556.2 Z" fill="#ecb5a6" stroke="#5c5c5c" stroke-width="0.55"/>
<line x1="286.2" y1="556.2" x2="286.2" y2="649.2" stroke="#555" stroke-width="0.7"/>
<rect x="284.9" y="598" width="2.6" height="32.8" fill="#555"/>
<rect x="285.1" y="614.95" width="2.2" height="0.9" fill="#f4f4f4"/>
<rect x="34.5" y="551.3" width="272.8" height="102.8" fill="none" stroke="#6a6a6a" stroke-width="0.85"/>
<line x1="32" y1="649.3" x2="34.5" y2="649.3" stroke="#6a6a6a" stroke-width="0.8"/>
<text x="31.5" y="652.05" text-anchor="end" transform="matrix(1 0 0 1.1 0 -65.21)" stroke="#111" stroke-width="0.1">0</text>
<line x1="32" y1="617.4" x2="34.5" y2="617.4" stroke="#6a6a6a" stroke-width="0.8"/>
<text x="31.5" y="620.15" text-anchor="end" transform="matrix(1 0 0 1.1 0 -62.02)" stroke="#111" stroke-width="0.1">200</text>
<line x1="32" y1="585.5" x2="34.5" y2="585.5" stroke="#6a6a6a" stroke-width="0.8"/>
<text x="31.5" y="588.25" text-anchor="end" transform="matrix(1 0 0 1.1 0 -58.83)" stroke="#111" stroke-width="0.1">400</text>
<line x1="32" y1="553.6" x2="34.5" y2="553.6" stroke="#6a6a6a" stroke-width="0.8"/>
<text x="31.5" y="556.35" text-anchor="end" transform="matrix(1 0 0 1.1 0 -55.64)" stroke="#111" stroke-width="0.1">600</text>
<line x1="80.3" y1="654.1" x2="80.3" y2="656.1" stroke="#6a6a6a" stroke-width="0.8"/>
<text x="80.3" y="663.4" text-anchor="middle" transform="matrix(1 0 0 1.1 0 -66.34)" stroke="#111" stroke-width="0.1">2020-2030</text>
<line x1="171" y1="654.1" x2="171" y2="656.1" stroke="#6a6a6a" stroke-width="0.8"/>
<text x="171" y="663.4" text-anchor="middle" transform="matrix(1 0 0 1.1 0 -66.34)" stroke="#111" stroke-width="0.1">2030-2040</text>
<line x1="261.9" y1="654.1" x2="261.9" y2="656.1" stroke="#6a6a6a" stroke-width="0.8"/>
<text x="261.9" y="663.4" text-anchor="middle" transform="matrix(1 0 0 1.1 0 -66.34)" stroke="#111" stroke-width="0.1">2040-2050</text>
<text x="170.9" y="672.3" text-anchor="middle" transform="matrix(1 0 0 1.1 0 -67.23)" stroke="#111" stroke-width="0.1">Year when CO<tspan font-size="80%" dy="1.4">2</tspan><tspan dy="-1.4"> emissions are halved from 2020 levels</tspan></text>
<text x="6.6" y="602.7" text-anchor="middle" transform="rotate(-90 6.6 602.7) matrix(1 0 0 1.1 0 -60.27)" stroke="#111" stroke-width="0.1">Cumulative Novel CDR</text>
<text x="14.9" y="602.7" text-anchor="middle" transform="rotate(-90 14.9 602.7) matrix(1 0 0 1.1 0 -60.27)" stroke="#111" stroke-width="0.1">2020 - net zero CO<tspan font-size="80%" dy="1.4">2</tspan><tspan dy="-1.4"> [Gt CO</tspan><tspan font-size="80%" dy="1.4">2</tspan><tspan dy="-1.4">]</tspan></text>
<text x="25.1" y="547.1" font-weight="bold" transform="matrix(1 0 0 1.1 0 -54.71)" stroke="#000" stroke-width="0.12" fill="#000">e</text>
<rect x="36.5" y="553.5" width="97.5" height="46.5" fill="#fff" opacity="0.85"/>
<text x="62.8" y="564.4" transform="matrix(1 0 0 1.1 0 -56.44)" stroke="#111" stroke-width="0.1">Net zero CO<tspan font-size="80%" dy="1.4">2</tspan><tspan dy="-1.4"> timing</tspan></text>
<rect x="41.2" y="569.4" width="15.8" height="5.7" fill="#8dd8e0"/>
<text x="62.8" y="575" transform="matrix(1 0 0 1.1 0 -57.5)" stroke="#111" stroke-width="0.1">2020-2050</text>
<rect x="41.2" y="580.2" width="15.8" height="5.7" fill="#9f8e7c"/>
<text x="62.8" y="585.8" transform="matrix(1 0 0 1.1 0 -58.58)" stroke="#111" stroke-width="0.1">2050-2075</text>
<rect x="41.2" y="591" width="15.8" height="5.7" fill="#ecb5a6"/>
<text x="62.8" y="596.6" transform="matrix(1 0 0 1.1 0 -59.66)" stroke="#111" stroke-width="0.1">2075-2100</text>
<text x="349.6" y="266" font-weight="bold" transform="matrix(1 0 0 1.1 0 -26.6)" stroke="#000" stroke-width="0.12" fill="#000">c</text>
<line x1="358.5" y1="373.8" x2="631.5" y2="373.8" stroke="#f2f2f2" stroke-width="0.8"/>
<line x1="358.5" y1="356.3" x2="631.5" y2="356.3" stroke="#f2f2f2" stroke-width="0.8"/>
<line x1="358.5" y1="338.8" x2="631.5" y2="338.8" stroke="#f2f2f2" stroke-width="0.8"/>
<line x1="358.5" y1="321.3" x2="631.5" y2="321.3" stroke="#f2f2f2" stroke-width="0.8"/>
<line x1="358.5" y1="303.8" x2="631.5" y2="303.8" stroke="#f2f2f2" stroke-width="0.8"/>
<line x1="358.5" y1="286.3" x2="631.5" y2="286.3" stroke="#f2f2f2" stroke-width="0.8"/>
<line x1="379" y1="270.6" x2="379" y2="373.6" stroke="#f2f2f2" stroke-width="0.8"/>
<line x1="456.5" y1="270.6" x2="456.5" y2="373.6" stroke="#f2f2f2" stroke-width="0.8"/>
<line x1="534" y1="270.6" x2="534" y2="373.6" stroke="#f2f2f2" stroke-width="0.8"/>
<line x1="611.5" y1="270.6" x2="611.5" y2="373.6" stroke="#f2f2f2" stroke-width="0.8"/>
<rect x="371.3" y="277.6" width="15.5" height="96.2" fill="#929292"/>
<rect x="394.7" y="277.6" width="15.2" height="69.4" fill="#a6b2d4"/>
<rect x="418.1" y="347.3" width="14.9" height="11.9" fill="#d8612a"/>
<rect x="448.8" y="361.6" width="15.4" height="12.2" fill="#929292"/>
<rect x="472.4" y="277.6" width="14.9" height="66.2" fill="#a6b2d4"/>
<rect x="495.2" y="344" width="15.5" height="12.9" fill="#d8612a"/>
<rect x="526.2" y="361.1" width="15.7" height="12.7" fill="#929292"/>
<rect x="549.4" y="277.6" width="15.4" height="67.1" fill="#a6b2d4"/>
<rect x="572.9" y="344.9" width="15.1" height="13.3" fill="#d8612a"/>
<rect x="604" y="361.1" width="15.1" height="12.7" fill="#929292"/>
<g opacity="0.85">
<line x1="379" y1="275.4" x2="379" y2="281" stroke="#1e1e1e" stroke-width="0.9"/>
<line x1="376.8" y1="275.4" x2="381.2" y2="275.4" stroke="#1e1e1e" stroke-width="0.9"/>
<line x1="376.8" y1="281" x2="381.2" y2="281" stroke="#1e1e1e" stroke-width="0.9"/>
</g>
<g opacity="0.85">
<line x1="402.5" y1="343.2" x2="402.5" y2="351.4" stroke="#1e1e1e" stroke-width="0.9"/>
<line x1="400.3" y1="343.2" x2="404.7" y2="343.2" stroke="#1e1e1e" stroke-width="0.9"/>
<line x1="400.3" y1="351.4" x2="404.7" y2="351.4" stroke="#1e1e1e" stroke-width="0.9"/>
</g>
<g opacity="0.85">
<line x1="425.6" y1="356.3" x2="425.6" y2="365.4" stroke="#1e1e1e" stroke-width="0.9"/>
<line x1="423.4" y1="356.3" x2="427.8" y2="356.3" stroke="#1e1e1e" stroke-width="0.9"/>
<line x1="423.4" y1="365.4" x2="427.8" y2="365.4" stroke="#1e1e1e" stroke-width="0.9"/>
</g>
<g opacity="0.85">
<line x1="456.5" y1="360.1" x2="456.5" y2="363" stroke="#1e1e1e" stroke-width="0.9"/>
<line x1="454.3" y1="360.1" x2="458.7" y2="360.1" stroke="#1e1e1e" stroke-width="0.9"/>
<line x1="454.3" y1="363" x2="458.7" y2="363" stroke="#1e1e1e" stroke-width="0.9"/>
</g>
<g opacity="0.85">
<line x1="479.9" y1="339.7" x2="479.9" y2="349.9" stroke="#1e1e1e" stroke-width="0.9"/>
<line x1="477.7" y1="339.7" x2="482.1" y2="339.7" stroke="#1e1e1e" stroke-width="0.9"/>
<line x1="477.7" y1="349.9" x2="482.1" y2="349.9" stroke="#1e1e1e" stroke-width="0.9"/>
</g>
<g opacity="0.85">
<line x1="503" y1="354.3" x2="503" y2="362.4" stroke="#1e1e1e" stroke-width="0.9"/>
<line x1="500.8" y1="354.3" x2="505.2" y2="354.3" stroke="#1e1e1e" stroke-width="0.9"/>
<line x1="500.8" y1="362.4" x2="505.2" y2="362.4" stroke="#1e1e1e" stroke-width="0.9"/>
</g>
<g opacity="0.85">
<line x1="534" y1="357.6" x2="534" y2="363" stroke="#1e1e1e" stroke-width="0.9"/>
<line x1="531.8" y1="357.6" x2="536.2" y2="357.6" stroke="#1e1e1e" stroke-width="0.9"/>
<line x1="531.8" y1="363" x2="536.2" y2="363" stroke="#1e1e1e" stroke-width="0.9"/>
</g>
<g opacity="0.85">
<line x1="557.1" y1="340.3" x2="557.1" y2="347.4" stroke="#1e1e1e" stroke-width="0.9"/>
<line x1="554.9" y1="340.3" x2="559.3" y2="340.3" stroke="#1e1e1e" stroke-width="0.9"/>
<line x1="554.9" y1="347.4" x2="559.3" y2="347.4" stroke="#1e1e1e" stroke-width="0.9"/>
</g>
<g opacity="0.85">
<line x1="580.5" y1="355.2" x2="580.5" y2="365.2" stroke="#1e1e1e" stroke-width="0.9"/>
<line x1="578.3" y1="355.2" x2="582.7" y2="355.2" stroke="#1e1e1e" stroke-width="0.9"/>
<line x1="578.3" y1="365.2" x2="582.7" y2="365.2" stroke="#1e1e1e" stroke-width="0.9"/>
</g>
<g opacity="0.85">
<line x1="611.5" y1="357.6" x2="611.5" y2="363" stroke="#1e1e1e" stroke-width="0.9"/>
<line x1="609.3" y1="357.6" x2="613.7" y2="357.6" stroke="#1e1e1e" stroke-width="0.9"/>
<line x1="609.3" y1="363" x2="613.7" y2="363" stroke="#1e1e1e" stroke-width="0.9"/>
</g>
<line x1="358.5" y1="277.3" x2="631.5" y2="277.3" stroke="#5a5a5a" stroke-width="0.75" stroke-dasharray="2.4 1.4"/>
<rect x="358.5" y="270.6" width="273" height="103" fill="none" stroke="#6a6a6a" stroke-width="0.85"/>
<line x1="356" y1="373.8" x2="358.5" y2="373.8" stroke="#6a6a6a" stroke-width="0.8"/>
<text x="355.5" y="376.55" text-anchor="end" transform="matrix(1 0 0 1.1 0 -37.66)" stroke="#111" stroke-width="0.1">0</text>
<line x1="356" y1="356.3" x2="358.5" y2="356.3" stroke="#6a6a6a" stroke-width="0.8"/>
<text x="355.5" y="359.05" text-anchor="end" transform="matrix(1 0 0 1.1 0 -35.91)" stroke="#111" stroke-width="0.1">10</text>
<line x1="356" y1="338.8" x2="358.5" y2="338.8" stroke="#6a6a6a" stroke-width="0.8"/>
<text x="355.5" y="341.55" text-anchor="end" transform="matrix(1 0 0 1.1 0 -34.16)" stroke="#111" stroke-width="0.1">20</text>
<line x1="356" y1="321.3" x2="358.5" y2="321.3" stroke="#6a6a6a" stroke-width="0.8"/>
<text x="355.5" y="324.05" text-anchor="end" transform="matrix(1 0 0 1.1 0 -32.41)" stroke="#111" stroke-width="0.1">30</text>
<line x1="356" y1="303.8" x2="358.5" y2="303.8" stroke="#6a6a6a" stroke-width="0.8"/>
<text x="355.5" y="306.55" text-anchor="end" transform="matrix(1 0 0 1.1 0 -30.66)" stroke="#111" stroke-width="0.1">40</text>
<line x1="356" y1="286.3" x2="358.5" y2="286.3" stroke="#6a6a6a" stroke-width="0.8"/>
<text x="355.5" y="289.05" text-anchor="end" transform="matrix(1 0 0 1.1 0 -28.91)" stroke="#111" stroke-width="0.1">50</text>
<line x1="379" y1="373.6" x2="379" y2="375.6" stroke="#6a6a6a" stroke-width="0.8"/>
<line x1="456.5" y1="373.6" x2="456.5" y2="375.6" stroke="#6a6a6a" stroke-width="0.8"/>
<line x1="534" y1="373.6" x2="534" y2="375.6" stroke="#6a6a6a" stroke-width="0.8"/>
<line x1="611.5" y1="373.6" x2="611.5" y2="375.6" stroke="#6a6a6a" stroke-width="0.8"/>
<text x="378.6" y="383" text-anchor="middle" transform="matrix(1 0 0 1.1 0 -38.3)" stroke="#111" stroke-width="0.1">2020</text>
<text x="456.5" y="382.5" text-anchor="middle" transform="matrix(1 0 0 1.1 0 -38.25)" stroke="#111" stroke-width="0.1">C1</text>
<text x="456.5" y="390.8" text-anchor="middle" transform="matrix(1 0 0 1.1 0 -39.08)" stroke="#111" stroke-width="0.1">Net zero CO<tspan font-size="80%" dy="1.4">2</tspan></text>
<text x="456.5" y="399" text-anchor="middle" transform="matrix(1 0 0 1.1 0 -39.9)" stroke="#111" stroke-width="0.1">(around 2050)</text>
<text x="534" y="382.5" text-anchor="middle" transform="matrix(1 0 0 1.1 0 -38.25)" stroke="#111" stroke-width="0.1">C2</text>
<text x="534" y="390.8" text-anchor="middle" transform="matrix(1 0 0 1.1 0 -39.08)" stroke="#111" stroke-width="0.1">Net zero CO<tspan font-size="80%" dy="1.4">2</tspan></text>
<text x="534" y="399" text-anchor="middle" transform="matrix(1 0 0 1.1 0 -39.9)" stroke="#111" stroke-width="0.1">(around 2060)</text>
<text x="611.5" y="382.5" text-anchor="middle" transform="matrix(1 0 0 1.1 0 -38.25)" stroke="#111" stroke-width="0.1">C3</text>
<text x="611.5" y="390.8" text-anchor="middle" transform="matrix(1 0 0 1.1 0 -39.08)" stroke="#111" stroke-width="0.1">Net zero CO<tspan font-size="80%" dy="1.4">2</tspan></text>
<text x="611.5" y="399" text-anchor="middle" transform="matrix(1 0 0 1.1 0 -39.9)" stroke="#111" stroke-width="0.1">(around 2070)</text>
<text x="332.7" y="321.6" text-anchor="middle" transform="rotate(-90 332.7 321.6) matrix(1 0 0 1.1 0 -32.16)" stroke="#111" stroke-width="0.1">Greenhouse Gas Emissions</text>
<text x="341.3" y="322.4" text-anchor="middle" transform="rotate(-90 341.3 322.4) matrix(1 0 0 1.1 0 -32.24)" stroke="#111" stroke-width="0.1">in GWP100 [Gt CO<tspan font-size="80%" dy="1.4">2</tspan><tspan dy="-1.4" font-style="italic">e</tspan>]</text>
<text x="436.8" y="322" text-anchor="middle" fill="#a9b4d6" transform="matrix(1 0 0 1.1 0 -32.2)" stroke="#a9b4d6" stroke-width="0.1">Gross CO<tspan font-size="80%" dy="1.4">2</tspan></text>
<text x="436.8" y="330.2" text-anchor="middle" fill="#a9b4d6" transform="matrix(1 0 0 1.1 0 -33.02)" stroke="#a9b4d6" stroke-width="0.1">and non CO<tspan font-size="80%" dy="1.4">2</tspan></text>
<path d="M417.6 295.2 Q428.5 300.5 433.0 312.0" fill="none" stroke="#a9b4d6" stroke-width="0.7"/>
<path d="M430.6 310.3 L433.3 313.2 L434.1 309.4" fill="none" stroke="#a9b4d6" stroke-width="0.7"/>
<text x="348.9" y="408.9" font-weight="bold" transform="matrix(1 0 0 1.1 0 -40.89)" stroke="#000" stroke-width="0.12" fill="#000">f</text>
<line x1="358.6" y1="643.2" x2="631.6" y2="643.2" stroke="#f2f2f2" stroke-width="0.8"/>
<line x1="358.6" y1="608.56" x2="631.6" y2="608.56" stroke="#f2f2f2" stroke-width="0.8"/>
<line x1="358.6" y1="573.92" x2="631.6" y2="573.92" stroke="#f2f2f2" stroke-width="0.8"/>
<line x1="358.6" y1="539.28" x2="631.6" y2="539.28" stroke="#f2f2f2" stroke-width="0.8"/>
<line x1="358.6" y1="504.64" x2="631.6" y2="504.64" stroke="#f2f2f2" stroke-width="0.8"/>
<line x1="358.6" y1="470" x2="631.6" y2="470" stroke="#f2f2f2" stroke-width="0.8"/>
<line x1="358.6" y1="435.36" x2="631.6" y2="435.36" stroke="#f2f2f2" stroke-width="0.8"/>
<line x1="371.7" y1="413.3" x2="371.7" y2="654.2" stroke="#f2f2f2" stroke-width="0.8"/>
<line x1="424.8" y1="413.3" x2="424.8" y2="654.2" stroke="#f2f2f2" stroke-width="0.8"/>
<line x1="477.9" y1="413.3" x2="477.9" y2="654.2" stroke="#f2f2f2" stroke-width="0.8"/>
<line x1="531" y1="413.3" x2="531" y2="654.2" stroke="#f2f2f2" stroke-width="0.8"/>
<line x1="584.1" y1="413.3" x2="584.1" y2="654.2" stroke="#f2f2f2" stroke-width="0.8"/>
<clipPath id="fclip"><rect x="358.6" y="413.3" width="273" height="240.9"/></clipPath>
<line x1="355.77" y1="653.59" x2="637.2" y2="470" stroke="#c4c4c4" stroke-width="0.7" stroke-dasharray="2.6 1.6" clip-path="url(#fclip)"/>
<g stroke="#ffffff" stroke-width="0.35">
<circle cx="439.1" cy="534.4" r="3.00" fill="#d8dee7"/>
<circle cx="444.2" cy="544.6" r="3.20" fill="#a8c4ff"/>
<circle cx="439.8" cy="548.6" r="3.20" fill="#cad9f2"/>
<circle cx="445.7" cy="551.2" r="3.40" fill="#bcd2f9"/>
<circle cx="451.5" cy="552.6" r="2.80" fill="#c5d7f5"/>
<circle cx="436.9" cy="554.8" r="2.30" fill="#8bacfb"/>
<circle cx="426.7" cy="559.2" r="3.00" fill="#b1ccfd"/>
<circle cx="453.0" cy="560.0" r="2.80" fill="#b1ccfd"/>
<circle cx="454.4" cy="565.0" r="3.00" fill="#cad9f2"/>
<circle cx="429.6" cy="569.8" r="3.00" fill="#c5d7f5"/>
<circle cx="434.0" cy="571.6" r="3.00" fill="#c5d7f5"/>
<circle cx="458.1" cy="569.4" r="2.90" fill="#c1d5f8"/>
<circle cx="451.5" cy="568.0" r="3.00" fill="#cad9f2"/>
<circle cx="463.1" cy="442.1" r="3.40" fill="#e57560"/>
<circle cx="447.0" cy="446.8" r="3.20" fill="#c73d3f"/>
<circle cx="443.8" cy="449.7" r="3.10" fill="#f6a386"/>
<circle cx="446.1" cy="460.0" r="3.10" fill="#e57560"/>
<circle cx="448.2" cy="465.8" r="3.40" fill="#f7a98c"/>
<circle cx="478.8" cy="467.2" r="3.10" fill="#f8b296"/>
<circle cx="467.2" cy="474.2" r="3.20" fill="#f8b69b"/>
<circle cx="557.2" cy="424.4" r="3.10" fill="#f8ac90"/>
<circle cx="548.8" cy="445.2" r="2.80" fill="#f8c1a8"/>
<circle cx="554.8" cy="448.1" r="2.80" fill="#f8b296"/>
<circle cx="513.1" cy="455.3" r="3.20" fill="#efd3c4"/>
<circle cx="512.3" cy="464.9" r="4.30" fill="#d0dcee"/>
<circle cx="481.6" cy="469.1" r="2.80" fill="#d8dee7"/>
<circle cx="479.9" cy="467.3" r="3.30" fill="#f8ac90"/>
<circle cx="543.2" cy="466.6" r="2.80" fill="#f2d0bf"/>
<circle cx="529.1" cy="470.6" r="3.00" fill="#f5c9b3"/>
<circle cx="501.5" cy="476.1" r="4.20" fill="#b6cffc"/>
<circle cx="509.0" cy="477.8" r="2.90" fill="#f2d0bf"/>
<circle cx="554.8" cy="483.2" r="2.80" fill="#91b2fd"/>
<circle cx="484.2" cy="484.0" r="3.00" fill="#cad9f2"/>
<circle cx="490.4" cy="487.6" r="3.80" fill="#b1ccfd"/>
<circle cx="562.9" cy="457.3" r="2.20" fill="#e3ddd9"/>
<circle cx="619.1" cy="487.1" r="4.40" fill="#4959c4"/>
<circle cx="428.1" cy="485.1" r="3.40" fill="#f8ac90"/>
<circle cx="468.4" cy="486.3" r="3.40" fill="#efd3c4"/>
<circle cx="459.0" cy="492.2" r="3.10" fill="#f2977b"/>
<circle cx="443.9" cy="496.8" r="2.50" fill="#f6a386"/>
<circle cx="447.4" cy="494.8" r="3.10" fill="#e16e5a"/>
<circle cx="441.0" cy="499.5" r="3.30" fill="#efd3c4"/>
<circle cx="431.6" cy="503.0" r="3.30" fill="#edd6c9"/>
<circle cx="481.2" cy="491.9" r="2.70" fill="#d8dee7"/>
<circle cx="480.1" cy="498.9" r="3.80" fill="#a8c4ff"/>
<circle cx="495.0" cy="496.6" r="3.00" fill="#d0dcee"/>
<circle cx="491.1" cy="504.8" r="3.00" fill="#d4ddeb"/>
<circle cx="457.3" cy="504.5" r="2.20" fill="#f8c1a8"/>
<circle cx="454.4" cy="503.8" r="2.60" fill="#a8c4ff"/>
<circle cx="453.4" cy="508.0" r="2.50" fill="#f8b296"/>
<circle cx="464.9" cy="507.0" r="3.00" fill="#f5c9b3"/>
<circle cx="468.4" cy="507.3" r="3.10" fill="#f2d0bf"/>
<circle cx="472.7" cy="506.1" r="2.60" fill="#c1d5f8"/>
<circle cx="480.1" cy="505.0" r="3.00" fill="#edd6c9"/>
<circle cx="485.9" cy="505.0" r="2.80" fill="#f5c9b3"/>
<circle cx="483.0" cy="508.8" r="3.00" fill="#97b6fe"/>
<circle cx="438.6" cy="509.4" r="3.40" fill="#efd3c4"/>
<circle cx="433.4" cy="510.5" r="2.90" fill="#f8bca2"/>
<circle cx="436.9" cy="512.3" r="2.60" fill="#f8b296"/>
<circle cx="467.2" cy="512.3" r="3.40" fill="#b1ccfd"/>
<circle cx="455.5" cy="515.2" r="2.50" fill="#97b6fe"/>
<circle cx="459.0" cy="514.0" r="2.30" fill="#8bacfb"/>
<circle cx="462.0" cy="514.6" r="2.30" fill="#81a1f8"/>
<circle cx="464.0" cy="518.1" r="2.30" fill="#718fee"/>
<circle cx="435.5" cy="519.0" r="3.50" fill="#dfdede"/>
<circle cx="441.0" cy="519.3" r="3.20" fill="#efd3c4"/>
<circle cx="446.2" cy="520.8" r="3.20" fill="#f5c9b3"/>
<circle cx="453.8" cy="519.3" r="2.60" fill="#f2d0bf"/>
<circle cx="450.3" cy="522.5" r="2.50" fill="#f8b296"/>
<circle cx="432.2" cy="521.9" r="2.70" fill="#f8c1a8"/>
<circle cx="439.8" cy="522.8" r="3.00" fill="#f2d0bf"/>
<circle cx="468.4" cy="521.9" r="2.80" fill="#d8dee7"/>
<circle cx="472.5" cy="523.4" r="2.30" fill="#f2d0bf"/>
<circle cx="463.1" cy="524.0" r="2.50" fill="#718fee"/>
<circle cx="459.6" cy="522.2" r="2.80" fill="#9bbbff"/>
<circle cx="457.9" cy="525.7" r="2.50" fill="#91b2fd"/>
<circle cx="455.0" cy="526.3" r="2.50" fill="#a8c4ff"/>
<circle cx="452.0" cy="526.9" r="3.00" fill="#9bbbff"/>
<circle cx="445.6" cy="526.3" r="3.00" fill="#edd6c9"/>
<circle cx="473.1" cy="526.9" r="2.70" fill="#d8dee7"/>
<circle cx="480.7" cy="526.9" r="2.50" fill="#b1ccfd"/>
<circle cx="492.3" cy="513.0" r="2.80" fill="#a8c4ff"/>
<circle cx="528.8" cy="505.6" r="2.80" fill="#718fee"/>
<circle cx="532.3" cy="510.0" r="2.60" fill="#6683e7"/>
<circle cx="509.8" cy="519.0" r="2.60" fill="#8bacfb"/>
<circle cx="513.3" cy="520.8" r="2.50" fill="#8bacfb"/>
<circle cx="516.2" cy="521.0" r="2.50" fill="#86a7f9"/>
<circle cx="513.1" cy="527.0" r="2.40" fill="#586fd8"/>
<circle cx="530.8" cy="525.8" r="3.20" fill="#7c9cf5"/>
<circle cx="496.6" cy="527.2" r="3.00" fill="#b1ccfd"/>
<circle cx="481.8" cy="527.2" r="2.50" fill="#b1ccfd"/>
<circle cx="554.0" cy="522.8" r="4.20" fill="#4959c4"/>
<circle cx="534.6" cy="533.8" r="4.10" fill="#4959c4"/>
<circle cx="598.1" cy="498.6" r="4.30" fill="#4959c4"/>
<circle cx="575.3" cy="511.1" r="4.20" fill="#4959c4"/>
<circle cx="426.6" cy="532.4" r="3.00" fill="#f2977b"/>
<circle cx="435.1" cy="533.4" r="3.20" fill="#d0dcee"/>
<circle cx="442.1" cy="534.1" r="2.50" fill="#a8c4ff"/>
<circle cx="445.9" cy="526.8" r="3.00" fill="#efd3c4"/>
<circle cx="446.8" cy="536.7" r="3.50" fill="#f2d0bf"/>
<circle cx="446.8" cy="541.4" r="3.00" fill="#f5c9b3"/>
<circle cx="452.3" cy="527.9" r="3.00" fill="#b1ccfd"/>
<circle cx="459.9" cy="529.7" r="3.50" fill="#d8dee7"/>
<circle cx="460.8" cy="534.1" r="2.50" fill="#7c9cf5"/>
<circle cx="465.5" cy="534.9" r="3.00" fill="#a8c4ff"/>
<circle cx="454.6" cy="538.4" r="2.40" fill="#81a1f8"/>
<circle cx="456.4" cy="536.1" r="2.40" fill="#8bacfb"/>
<circle cx="460.8" cy="541.1" r="3.00" fill="#97b6fe"/>
<circle cx="469.8" cy="529.7" r="2.50" fill="#ebd8cf"/>
<circle cx="473.9" cy="529.7" r="3.00" fill="#d8dee7"/>
<circle cx="472.2" cy="536.7" r="3.00" fill="#b1ccfd"/>
<circle cx="475.1" cy="536.7" r="3.00" fill="#b6cffc"/>
<circle cx="480.9" cy="529.7" r="3.00" fill="#b1ccfd"/>
<circle cx="482.7" cy="537.6" r="2.40" fill="#8bacfb"/>
<circle cx="476.2" cy="540.2" r="2.20" fill="#a8c4ff"/>
<circle cx="423.5" cy="541.9" r="3.00" fill="#efd3c4"/>
<circle cx="435.6" cy="545.8" r="3.50" fill="#b1ccfd"/>
<circle cx="440.0" cy="549.0" r="3.20" fill="#c5d7f5"/>
<circle cx="444.7" cy="544.9" r="2.80" fill="#9bbbff"/>
<circle cx="445.3" cy="551.3" r="3.30" fill="#b6cffc"/>
<circle cx="448.8" cy="549.0" r="2.40" fill="#718fee"/>
<circle cx="452.9" cy="549.0" r="2.40" fill="#718fee"/>
<circle cx="451.7" cy="553.0" r="2.60" fill="#b1ccfd"/>
<circle cx="424.9" cy="549.0" r="2.30" fill="#f8b296"/>
<circle cx="424.9" cy="551.9" r="3.00" fill="#a8c4ff"/>
<circle cx="430.1" cy="550.1" r="2.80" fill="#b1ccfd"/>
<circle cx="412.6" cy="552.8" r="3.00" fill="#f8b69b"/>
<circle cx="414.9" cy="557.7" r="2.50" fill="#f8c1a8"/>
<circle cx="419.0" cy="556.0" r="2.40" fill="#f5c9b3"/>
<circle cx="419.9" cy="559.7" r="2.50" fill="#efd3c4"/>
<circle cx="427.2" cy="558.9" r="3.20" fill="#b1ccfd"/>
<circle cx="433.0" cy="560.6" r="3.30" fill="#a8c4ff"/>
<circle cx="435.4" cy="557.7" r="2.50" fill="#f8c1a8"/>
<circle cx="441.2" cy="558.3" r="3.00" fill="#c5d7f5"/>
<circle cx="450.0" cy="558.3" r="3.20" fill="#efd3c4"/>
<circle cx="446.5" cy="556.0" r="2.40" fill="#8bacfb"/>
<circle cx="462.0" cy="556.3" r="2.80" fill="#7c9cf5"/>
<circle cx="464.6" cy="550.7" r="2.40" fill="#d8dee7"/>
<circle cx="472.5" cy="550.1" r="3.00" fill="#a8c4ff"/>
<circle cx="477.4" cy="551.9" r="2.50" fill="#c1d5f8"/>
<circle cx="480.9" cy="548.4" r="2.60" fill="#cad9f2"/>
<circle cx="482.1" cy="556.5" r="3.60" fill="#a8c4ff"/>
<circle cx="473.9" cy="557.1" r="2.40" fill="#617ce1"/>
<circle cx="472.7" cy="558.9" r="2.20" fill="#617ce1"/>
<circle cx="464.0" cy="562.4" r="2.40" fill="#5c75dd"/>
<circle cx="444.7" cy="562.4" r="2.40" fill="#718fee"/>
<circle cx="442.4" cy="565.3" r="2.20" fill="#718fee"/>
<circle cx="421.4" cy="564.7" r="2.80" fill="#d8dee7"/>
<circle cx="428.4" cy="565.9" r="2.50" fill="#d8dee7"/>
<circle cx="433.6" cy="565.3" r="3.00" fill="#b1ccfd"/>
<circle cx="439.5" cy="568.0" r="2.30" fill="#718fee"/>
<circle cx="451.7" cy="566.5" r="3.20" fill="#d0dcee"/>
<circle cx="458.1" cy="563.5" r="2.60" fill="#b1ccfd"/>
<circle cx="471.6" cy="564.7" r="2.50" fill="#b1ccfd"/>
<circle cx="478.6" cy="563.5" r="2.40" fill="#718fee"/>
<circle cx="482.3" cy="567.2" r="3.40" fill="#5369d2"/>
<circle cx="423.7" cy="571.1" r="3.00" fill="#cad9f2"/>
<circle cx="430.7" cy="570.0" r="2.60" fill="#c1d5f8"/>
<circle cx="438.3" cy="574.1" r="2.20" fill="#5c75dd"/>
<circle cx="451.1" cy="573.8" r="2.40" fill="#a8c4ff"/>
<circle cx="455.8" cy="573.5" r="2.30" fill="#586fd8"/>
<circle cx="456.4" cy="570.0" r="2.60" fill="#b1ccfd"/>
<circle cx="465.7" cy="570.5" r="3.30" fill="#9bbbff"/>
<circle cx="472.2" cy="568.8" r="2.50" fill="#a8c4ff"/>
<circle cx="475.1" cy="572.9" r="2.30" fill="#a8c4ff"/>
<circle cx="478.6" cy="573.5" r="2.70" fill="#a8c4ff"/>
<circle cx="422.5" cy="576.4" r="2.50" fill="#b1ccfd"/>
<circle cx="429.0" cy="575.2" r="3.20" fill="#9bbbff"/>
<circle cx="427.2" cy="579.9" r="2.80" fill="#9bbbff"/>
<circle cx="431.9" cy="578.1" r="2.70" fill="#a8c4ff"/>
<circle cx="446.5" cy="577.6" r="3.10" fill="#a8c4ff"/>
<circle cx="451.1" cy="578.1" r="2.50" fill="#a8c4ff"/>
<circle cx="459.9" cy="579.9" r="3.10" fill="#8bacfb"/>
<circle cx="463.4" cy="578.1" r="2.30" fill="#a8c4ff"/>
<circle cx="473.9" cy="577.6" r="3.00" fill="#a8c4ff"/>
<circle cx="479.7" cy="582.2" r="2.50" fill="#586fd8"/>
<circle cx="419.6" cy="582.8" r="3.20" fill="#a8c4ff"/>
<circle cx="412.6" cy="587.5" r="3.10" fill="#a8c4ff"/>
<circle cx="442.4" cy="582.8" r="3.00" fill="#6683e7"/>
<circle cx="438.9" cy="582.2" r="2.30" fill="#7c9cf5"/>
<circle cx="450.5" cy="583.4" r="3.00" fill="#8bacfb"/>
<circle cx="455.2" cy="585.7" r="2.50" fill="#a8c4ff"/>
<circle cx="468.1" cy="582.2" r="2.50" fill="#a8c4ff"/>
<circle cx="472.7" cy="585.7" r="2.50" fill="#7c9cf5"/>
<circle cx="436.5" cy="586.9" r="2.60" fill="#8bacfb"/>
<circle cx="441.8" cy="586.3" r="2.30" fill="#586fd8"/>
<circle cx="427.8" cy="588.6" r="2.40" fill="#586fd8"/>
<circle cx="422.5" cy="585.7" r="2.30" fill="#718fee"/>
<circle cx="465.7" cy="588.6" r="2.50" fill="#7c9cf5"/>
<circle cx="516.4" cy="545.4" r="4.00" fill="#5369d2"/>
<circle cx="512.3" cy="542.5" r="2.80" fill="#7c9cf5"/>
<circle cx="510.5" cy="543.1" r="2.60" fill="#7c9cf5"/>
<circle cx="512.6" cy="550.5" r="2.60" fill="#5c75dd"/>
<circle cx="528.6" cy="553.0" r="2.50" fill="#5c75dd"/>
<circle cx="525.7" cy="550.7" r="3.00" fill="#b1ccfd"/>
<circle cx="522.2" cy="553.6" r="3.00" fill="#b1ccfd"/>
<circle cx="517.6" cy="556.5" r="3.00" fill="#b1ccfd"/>
<circle cx="509.4" cy="555.9" r="3.00" fill="#b1ccfd"/>
<circle cx="506.5" cy="560.0" r="3.00" fill="#b1ccfd"/>
<circle cx="503.5" cy="561.8" r="3.00" fill="#b1ccfd"/>
<circle cx="505.9" cy="563.0" r="2.80" fill="#b1ccfd"/>
<circle cx="499.5" cy="556.3" r="3.50" fill="#5369d2"/>
<circle cx="495.1" cy="554.8" r="2.50" fill="#718fee"/>
<circle cx="512.9" cy="527.1" r="2.40" fill="#6683e7"/>
<circle cx="531.0" cy="526.2" r="2.60" fill="#9bbbff"/>
<circle cx="496.5" cy="527.3" r="2.70" fill="#b1ccfd"/>
<circle cx="494.8" cy="541.4" r="2.30" fill="#6683e7"/>
<circle cx="491.3" cy="539.6" r="3.00" fill="#a8c4ff"/>
<circle cx="482.5" cy="537.8" r="2.30" fill="#a8c4ff"/>
<circle cx="485.1" cy="545.4" r="2.30" fill="#718fee"/>
<circle cx="481.4" cy="547.8" r="2.60" fill="#bcd2f9"/>
<circle cx="472.6" cy="550.5" r="2.80" fill="#a8c4ff"/>
<circle cx="477.8" cy="552.4" r="2.60" fill="#bcd2f9"/>
<circle cx="482.5" cy="556.0" r="3.30" fill="#a8c4ff"/>
<circle cx="487.2" cy="554.8" r="3.30" fill="#b1ccfd"/>
<circle cx="474.9" cy="557.1" r="2.20" fill="#617ce1"/>
<circle cx="491.9" cy="560.6" r="2.50" fill="#a8c4ff"/>
<circle cx="492.4" cy="565.3" r="3.50" fill="#a8c4ff"/>
<circle cx="482.5" cy="567.3" r="3.20" fill="#5369d2"/>
<circle cx="478.8" cy="563.5" r="2.30" fill="#718fee"/>
<circle cx="496.5" cy="568.8" r="2.80" fill="#b1ccfd"/>
<circle cx="493.6" cy="570.5" r="2.80" fill="#a8c4ff"/>
<circle cx="489.5" cy="572.3" r="2.60" fill="#a8c4ff"/>
<circle cx="487.8" cy="575.8" r="2.70" fill="#a8c4ff"/>
<circle cx="485.4" cy="576.4" r="2.50" fill="#a8c4ff"/>
<circle cx="472.0" cy="564.7" r="2.30" fill="#b1ccfd"/>
<circle cx="472.6" cy="568.8" r="2.20" fill="#8bacfb"/>
<circle cx="466.8" cy="570.5" r="3.00" fill="#a8c4ff"/>
<circle cx="470.8" cy="572.9" r="2.20" fill="#8bacfb"/>
<circle cx="474.3" cy="577.6" r="3.20" fill="#a8c4ff"/>
<circle cx="479.0" cy="574.1" r="2.50" fill="#a8c4ff"/>
<circle cx="481.4" cy="579.9" r="2.50" fill="#a8c4ff"/>
<circle cx="480.0" cy="582.8" r="2.40" fill="#586fd8"/>
<circle cx="468.5" cy="581.6" r="2.60" fill="#8bacfb"/>
<circle cx="473.8" cy="585.1" r="2.30" fill="#a8c4ff"/>
<circle cx="470.3" cy="586.9" r="2.50" fill="#a8c4ff"/>
<circle cx="466.2" cy="534.3" r="3.00" fill="#b1ccfd"/>
<circle cx="473.2" cy="529.1" r="3.00" fill="#d8dee7"/>
<circle cx="481.4" cy="529.7" r="3.00" fill="#b1ccfd"/>
<circle cx="474.3" cy="536.7" r="3.00" fill="#b1ccfd"/>
<circle cx="528.9" cy="505.9" r="2.60" fill="#718fee"/>
<circle cx="532.0" cy="509.8" r="2.50" fill="#6683e7"/>
<circle cx="530.9" cy="525.5" r="2.90" fill="#7c9cf5"/>
<circle cx="528.1" cy="552.8" r="2.40" fill="#586fd8"/>
<circle cx="400.9" cy="606.8" r="2.00" fill="#f5c9b3"/>
<circle cx="408.1" cy="606.8" r="3.50" fill="#a8c4ff"/>
<circle cx="411.7" cy="602.4" r="2.80" fill="#718fee"/>
<circle cx="414.9" cy="606.5" r="2.60" fill="#8bacfb"/>
<circle cx="412.6" cy="611.0" r="2.40" fill="#8bacfb"/>
<circle cx="409.0" cy="613.5" r="2.40" fill="#7c9cf5"/>
<circle cx="406.7" cy="614.1" r="2.00" fill="#718fee"/>
<circle cx="404.4" cy="617.6" r="2.30" fill="#617ce1"/>
<circle cx="408.5" cy="618.0" r="1.80" fill="#718fee"/>
<circle cx="419.0" cy="610.6" r="2.50" fill="#7c9cf5"/>
<circle cx="421.7" cy="610.0" r="2.30" fill="#7c9cf5"/>
<circle cx="419.0" cy="616.5" r="1.80" fill="#6683e7"/>
<circle cx="417.8" cy="612.4" r="2.00" fill="#718fee"/>
<circle cx="397.4" cy="624.6" r="2.30" fill="#7c9cf5"/>
<circle cx="393.9" cy="623.8" r="1.60" fill="#718fee"/>
<circle cx="401.5" cy="622.9" r="1.50" fill="#586fd8"/>
<circle cx="401.1" cy="630.1" r="2.00" fill="#6683e7"/>
<circle cx="384.8" cy="631.3" r="2.80" fill="#8bacfb"/>
<circle cx="388.3" cy="632.5" r="2.00" fill="#7c9cf5"/>
<circle cx="391.0" cy="629.7" r="1.80" fill="#718fee"/>
<circle cx="393.3" cy="629.0" r="1.40" fill="#586fd8"/>
<circle cx="383.1" cy="636.9" r="1.50" fill="#718fee"/>
<circle cx="380.4" cy="637.5" r="1.50" fill="#718fee"/>
<circle cx="379.6" cy="639.6" r="2.00" fill="#718fee"/>
<circle cx="375.2" cy="641.0" r="1.40" fill="#718fee"/>
<circle cx="373.4" cy="642.2" r="1.40" fill="#718fee"/>
<circle cx="372.3" cy="643.0" r="1.30" fill="#718fee"/>
<circle cx="412.8" cy="587.8" r="3.80" fill="#a8c4ff"/>
<circle cx="419.6" cy="583.4" r="3.90" fill="#b1ccfd"/>
<circle cx="417.8" cy="590.8" r="2.70" fill="#9bbbff"/>
<circle cx="418.2" cy="593.5" r="2.30" fill="#6683e7"/>
<circle cx="423.6" cy="590.2" r="2.80" fill="#8bacfb"/>
<circle cx="427.2" cy="588.4" r="2.50" fill="#586fd8"/>
<circle cx="427.5" cy="592.5" r="3.00" fill="#a8c4ff"/>
<circle cx="423.6" cy="601.3" r="3.00" fill="#718fee"/>
<circle cx="429.5" cy="599.5" r="2.50" fill="#8bacfb"/>
<circle cx="428.9" cy="603.6" r="2.60" fill="#718fee"/>
<circle cx="424.0" cy="606.3" r="2.20" fill="#86a7f9"/>
<circle cx="430.7" cy="607.7" r="2.30" fill="#718fee"/>
<circle cx="435.3" cy="608.9" r="2.30" fill="#718fee"/>
<circle cx="438.2" cy="606.5" r="2.50" fill="#718fee"/>
<circle cx="436.5" cy="600.1" r="3.00" fill="#a8c4ff"/>
<circle cx="435.3" cy="595.4" r="2.20" fill="#718fee"/>
<circle cx="437.7" cy="587.8" r="3.00" fill="#a8c4ff"/>
<circle cx="433.6" cy="586.1" r="2.50" fill="#9bbbff"/>
<circle cx="423.6" cy="577.3" r="3.00" fill="#b1ccfd"/>
<circle cx="430.1" cy="576.8" r="3.00" fill="#a8c4ff"/>
<circle cx="427.2" cy="580.3" r="3.00" fill="#a8c4ff"/>
<circle cx="443.0" cy="582.9" r="3.00" fill="#718fee"/>
<circle cx="441.6" cy="586.4" r="2.20" fill="#5369d2"/>
<circle cx="438.6" cy="583.3" r="2.50" fill="#7c9cf5"/>
<circle cx="437.3" cy="588.0" r="3.00" fill="#a8c4ff"/>
<circle cx="433.3" cy="586.4" r="2.00" fill="#8bacfb"/>
<circle cx="427.6" cy="588.6" r="2.00" fill="#5369d2"/>
<circle cx="450.4" cy="583.8" r="3.20" fill="#9bbbff"/>
<circle cx="455.2" cy="586.8" r="2.60" fill="#b1ccfd"/>
<circle cx="460.0" cy="579.8" r="3.10" fill="#8bacfb"/>
<circle cx="460.5" cy="584.2" r="2.60" fill="#b1ccfd"/>
<circle cx="468.4" cy="581.6" r="2.60" fill="#a8c4ff"/>
<circle cx="471.0" cy="586.8" r="2.50" fill="#a8c4ff"/>
<circle cx="473.6" cy="585.3" r="2.50" fill="#a8c4ff"/>
<circle cx="480.0" cy="583.1" r="2.50" fill="#586fd8"/>
<circle cx="465.7" cy="589.0" r="2.40" fill="#8bacfb"/>
<circle cx="462.7" cy="592.1" r="2.40" fill="#7c9cf5"/>
<circle cx="463.1" cy="595.1" r="2.40" fill="#586fd8"/>
<circle cx="457.8" cy="596.5" r="2.30" fill="#586fd8"/>
<circle cx="455.2" cy="593.4" r="2.30" fill="#a8c4ff"/>
<circle cx="452.6" cy="593.8" r="2.20" fill="#a8c4ff"/>
<circle cx="451.3" cy="598.2" r="2.30" fill="#8bacfb"/>
<circle cx="447.3" cy="596.9" r="2.30" fill="#8bacfb"/>
<circle cx="449.5" cy="599.1" r="2.20" fill="#8bacfb"/>
<circle cx="439.0" cy="594.7" r="2.30" fill="#a8c4ff"/>
<circle cx="438.6" cy="597.3" r="2.80" fill="#a8c4ff"/>
<circle cx="435.1" cy="595.6" r="2.00" fill="#7c9cf5"/>
<circle cx="436.4" cy="600.8" r="2.30" fill="#a8c4ff"/>
<circle cx="443.0" cy="603.0" r="2.40" fill="#8bacfb"/>
<circle cx="428.9" cy="603.5" r="2.40" fill="#7c9cf5"/>
<circle cx="429.8" cy="599.5" r="2.20" fill="#a8c4ff"/>
<circle cx="430.7" cy="607.4" r="2.20" fill="#7c9cf5"/>
<circle cx="437.7" cy="606.5" r="2.30" fill="#7c9cf5"/>
<circle cx="435.1" cy="608.7" r="2.20" fill="#718fee"/>
</g>
<rect x="358.6" y="413.3" width="273" height="240.9" fill="none" stroke="#6a6a6a" stroke-width="0.85"/>
<line x1="356.6" y1="643.2" x2="358.6" y2="643.2" stroke="#6a6a6a" stroke-width="0.8"/>
<text x="355.3" y="645.95" text-anchor="end" transform="matrix(1 0 0 1.1 0 -64.6)" stroke="#111" stroke-width="0.1">0</text>
<line x1="356.6" y1="608.56" x2="358.6" y2="608.56" stroke="#6a6a6a" stroke-width="0.8"/>
<text x="355.3" y="611.31" text-anchor="end" transform="matrix(1 0 0 1.1 0 -61.13)" stroke="#111" stroke-width="0.1">200</text>
<line x1="356.6" y1="573.92" x2="358.6" y2="573.92" stroke="#6a6a6a" stroke-width="0.8"/>
<text x="355.3" y="576.67" text-anchor="end" transform="matrix(1 0 0 1.1 0 -57.67)" stroke="#111" stroke-width="0.1">400</text>
<line x1="356.6" y1="539.28" x2="358.6" y2="539.28" stroke="#6a6a6a" stroke-width="0.8"/>
<text x="355.3" y="542.03" text-anchor="end" transform="matrix(1 0 0 1.1 0 -54.2)" stroke="#111" stroke-width="0.1">600</text>
<line x1="356.6" y1="504.64" x2="358.6" y2="504.64" stroke="#6a6a6a" stroke-width="0.8"/>
<text x="355.3" y="507.39" text-anchor="end" transform="matrix(1 0 0 1.1 0 -50.74)" stroke="#111" stroke-width="0.1">800</text>
<line x1="356.6" y1="470" x2="358.6" y2="470" stroke="#6a6a6a" stroke-width="0.8"/>
<text x="355.3" y="472.75" text-anchor="end" transform="matrix(1 0 0 1.1 0 -47.28)" stroke="#111" stroke-width="0.1">1000</text>
<line x1="356.6" y1="435.36" x2="358.6" y2="435.36" stroke="#6a6a6a" stroke-width="0.8"/>
<text x="355.3" y="438.11" text-anchor="end" transform="matrix(1 0 0 1.1 0 -43.81)" stroke="#111" stroke-width="0.1">1200</text>
<line x1="371.7" y1="654.2" x2="371.7" y2="656.2" stroke="#6a6a6a" stroke-width="0.8"/>
<text x="371.7" y="663.3" text-anchor="middle" transform="matrix(1 0 0 1.1 0 -66.33)" stroke="#111" stroke-width="0.1">0</text>
<line x1="424.8" y1="654.2" x2="424.8" y2="656.2" stroke="#6a6a6a" stroke-width="0.8"/>
<text x="424.8" y="663.3" text-anchor="middle" transform="matrix(1 0 0 1.1 0 -66.33)" stroke="#111" stroke-width="0.1">200</text>
<line x1="477.9" y1="654.2" x2="477.9" y2="656.2" stroke="#6a6a6a" stroke-width="0.8"/>
<text x="477.9" y="663.3" text-anchor="middle" transform="matrix(1 0 0 1.1 0 -66.33)" stroke="#111" stroke-width="0.1">400</text>
<line x1="531" y1="654.2" x2="531" y2="656.2" stroke="#6a6a6a" stroke-width="0.8"/>
<text x="531" y="663.3" text-anchor="middle" transform="matrix(1 0 0 1.1 0 -66.33)" stroke="#111" stroke-width="0.1">600</text>
<line x1="584.1" y1="654.2" x2="584.1" y2="656.2" stroke="#6a6a6a" stroke-width="0.8"/>
<text x="584.1" y="663.3" text-anchor="middle" transform="matrix(1 0 0 1.1 0 -66.33)" stroke="#111" stroke-width="0.1">800</text>
<text x="495.1" y="672.5" text-anchor="middle" transform="matrix(1 0 0 1.1 0 -67.25)" stroke="#111" stroke-width="0.1">Cumulative residual CO<tspan font-size="80%" dy="1.4">2</tspan><tspan dy="-1.4"> emissions between net zero and 2100</tspan></text>
<text x="495.1" y="680.6" text-anchor="middle" transform="matrix(1 0 0 1.1 0 -68.06)" stroke="#111" stroke-width="0.1">[Gt CO<tspan font-size="80%" dy="1.4">2</tspan><tspan dy="-1.4">]</tspan></text>
<text x="323.6" y="533.6" text-anchor="middle" transform="rotate(-90 323.6 533.6) matrix(1 0 0 1.1 0 -53.36)" stroke="#111" stroke-width="0.1">Cumulative CDR between net zero and 2100</text>
<text x="334.2" y="531.2" text-anchor="middle" transform="rotate(-90 334.2 531.2) matrix(1 0 0 1.1 0 -53.12)" stroke="#111" stroke-width="0.1">[Gt CO<tspan font-size="80%" dy="1.4">2</tspan><tspan dy="-1.4">]</tspan></text>
<text x="557.9" y="584.2" transform="matrix(1 0 0 1.1 0 -58.42)" stroke="#111" stroke-width="0.1">Cumulative residual</text>
<text x="557.9" y="592.3" transform="matrix(1 0 0 1.1 0 -59.23)" stroke="#111" stroke-width="0.1">non CO<tspan font-size="80%" dy="1.4">2</tspan><tspan dy="-1.4"> [Gt CO</tspan><tspan font-size="80%" dy="1.4">2</tspan><tspan dy="-1.4" font-style="italic">e</tspan>]</text>
<circle cx="544" cy="600.4" r="1.9" fill="#333"/>
<text x="557.9" y="603.15" transform="matrix(1 0 0 1.1 0 -60.32)" stroke="#111" stroke-width="0.1">150</text>
<circle cx="544" cy="611.1" r="2.6" fill="#333"/>
<text x="557.9" y="613.85" transform="matrix(1 0 0 1.1 0 -61.39)" stroke="#111" stroke-width="0.1">300</text>
<circle cx="544" cy="621.8" r="3.15" fill="#333"/>
<text x="557.9" y="624.55" transform="matrix(1 0 0 1.1 0 -62.46)" stroke="#111" stroke-width="0.1">450</text>
<circle cx="544" cy="632.5" r="3.6" fill="#333"/>
<text x="557.9" y="635.25" transform="matrix(1 0 0 1.1 0 -63.53)" stroke="#111" stroke-width="0.1">600</text>
<circle cx="544" cy="643.2" r="4.1" fill="#333"/>
<text x="557.9" y="645.95" transform="matrix(1 0 0 1.1 0 -64.6)" stroke="#111" stroke-width="0.1">750</text>
<linearGradient id="cbar" x1="0" y1="0" x2="0" y2="1"><stop offset="0" stop-color="#b40426"/><stop offset="0.05" stop-color="#c53334"/><stop offset="0.1" stop-color="#d65244"/><stop offset="0.15" stop-color="#e36c55"/><stop offset="0.2" stop-color="#ee8468"/><stop offset="0.25" stop-color="#f4987a"/><stop offset="0.3" stop-color="#f7ac8e"/><stop offset="0.35" stop-color="#f6bda2"/><stop offset="0.4" stop-color="#f2cbb7"/><stop offset="0.45" stop-color="#e9d5cb"/><stop offset="0.5" stop-color="#dddcdc"/><stop offset="0.55" stop-color="#cfdaea"/><stop offset="0.6" stop-color="#c0d4f5"/><stop offset="0.65" stop-color="#afcafc"/><stop offset="0.7" stop-color="#9ebeff"/><stop offset="0.75" stop-color="#8db0fe"/><stop offset="0.8" stop-color="#7b9ff9"/><stop offset="0.85" stop-color="#6a8bef"/><stop offset="0.9" stop-color="#5977e3"/><stop offset="0.95" stop-color="#4961d2"/><stop offset="1" stop-color="#3b4cc0"/></linearGradient>
<rect x="648.7" y="413.5" width="11.9" height="240.4" fill="url(#cbar)" stroke="#555" stroke-width="0.6"/>
<line x1="660.6" y1="620.3" x2="661.9" y2="620.3" stroke="#6a6a6a" stroke-width="0.7"/>
<text x="663.8" y="623.05" transform="matrix(1 0 0 1.1 0 -62.31)" stroke="#111" stroke-width="0.1">0.1</text>
<line x1="660.6" y1="580.4" x2="661.9" y2="580.4" stroke="#6a6a6a" stroke-width="0.7"/>
<text x="663.8" y="583.15" transform="matrix(1 0 0 1.1 0 -58.32)" stroke="#111" stroke-width="0.1">0.2</text>
<line x1="660.6" y1="540.5" x2="661.9" y2="540.5" stroke="#6a6a6a" stroke-width="0.7"/>
<text x="663.8" y="543.25" transform="matrix(1 0 0 1.1 0 -54.33)" stroke="#111" stroke-width="0.1">0.3</text>
<line x1="660.6" y1="500.6" x2="661.9" y2="500.6" stroke="#6a6a6a" stroke-width="0.7"/>
<text x="663.8" y="503.35" transform="matrix(1 0 0 1.1 0 -50.34)" stroke="#111" stroke-width="0.1">0.4</text>
<line x1="660.6" y1="460.7" x2="661.9" y2="460.7" stroke="#6a6a6a" stroke-width="0.7"/>
<text x="663.8" y="463.45" transform="matrix(1 0 0 1.1 0 -46.35)" stroke="#111" stroke-width="0.1">0.5</text>
<line x1="660.6" y1="420.8" x2="661.9" y2="420.8" stroke="#6a6a6a" stroke-width="0.7"/>
<text x="663.8" y="423.55" transform="matrix(1 0 0 1.1 0 -42.36)" stroke="#111" stroke-width="0.1">0.6</text>
<text x="679.2" y="533.7" text-anchor="middle" transform="rotate(90 679.2 533.7) matrix(1 0 0 1.1 0 -53.37)" stroke="#111" stroke-width="0.1">Median cooling after peak [°C]</text>
</svg>
</body></html>
